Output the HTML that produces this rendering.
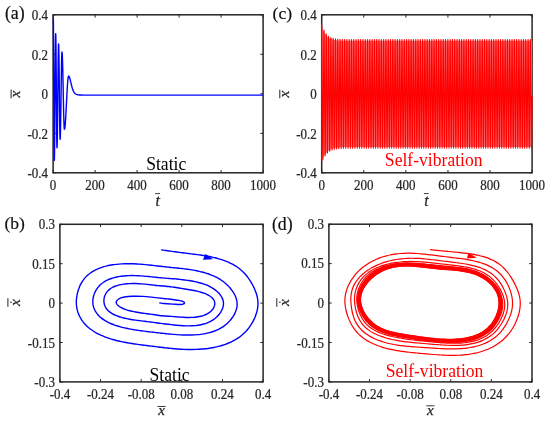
<!DOCTYPE html>
<html><head><meta charset="utf-8"><title>Static and self-vibration</title>
<style>
html,body{margin:0;padding:0;background:#fff;}
svg{display:block;font-family:"Liberation Serif","DejaVu Serif",serif;fill:#262626;}
</style></head><body>
<svg width="550" height="423" viewBox="0 0 550 423">
<rect width="550" height="423" fill="#fff"/>
<rect x="53.1" y="14.8" width="210.00000000000003" height="158.0" fill="none" stroke="#262626" stroke-width="1.5"/>
<path d="M53.10 172.8v-2.8M53.10 14.8v2.8M95.10 172.8v-2.8M95.10 14.8v2.8M137.10 172.8v-2.8M137.10 14.8v2.8M179.10 172.8v-2.8M179.10 14.8v2.8M221.10 172.8v-2.8M221.10 14.8v2.8M263.10 172.8v-2.8M263.10 14.8v2.8M53.1 14.80h2.8M263.1 14.80h-2.8M53.1 54.30h2.8M263.1 54.30h-2.8M53.1 93.80h2.8M263.1 93.80h-2.8M53.1 133.30h2.8M263.1 133.30h-2.8M53.1 172.80h2.8M263.1 172.80h-2.8" stroke="#262626" stroke-width="1" fill="none"/>
<text transform="translate(53.10,189.5) scale(1,1.05)" text-anchor="middle" font-size="13" stroke="#262626" stroke-width="0.22">0</text>
<text transform="translate(95.10,189.5) scale(1,1.05)" text-anchor="middle" font-size="13" stroke="#262626" stroke-width="0.22">200</text>
<text transform="translate(137.10,189.5) scale(1,1.05)" text-anchor="middle" font-size="13" stroke="#262626" stroke-width="0.22">400</text>
<text transform="translate(179.10,189.5) scale(1,1.05)" text-anchor="middle" font-size="13" stroke="#262626" stroke-width="0.22">600</text>
<text transform="translate(221.10,189.5) scale(1,1.05)" text-anchor="middle" font-size="13" stroke="#262626" stroke-width="0.22">800</text>
<text transform="translate(263.10,189.5) scale(1,1.05)" text-anchor="middle" font-size="13" stroke="#262626" stroke-width="0.22">1000</text>
<text transform="translate(48.1,20.26) scale(1,1.05)" text-anchor="end" font-size="13" stroke="#262626" stroke-width="0.22">0.4</text>
<text transform="translate(48.1,59.76) scale(1,1.05)" text-anchor="end" font-size="13" stroke="#262626" stroke-width="0.22">0.2</text>
<text transform="translate(48.1,99.26) scale(1,1.05)" text-anchor="end" font-size="13" stroke="#262626" stroke-width="0.22">0</text>
<text transform="translate(48.1,138.76) scale(1,1.05)" text-anchor="end" font-size="13" stroke="#262626" stroke-width="0.22">-0.2</text>
<text transform="translate(48.1,178.26) scale(1,1.05)" text-anchor="end" font-size="13" stroke="#262626" stroke-width="0.22">-0.4</text>
<rect x="321.7" y="14.8" width="210.40000000000003" height="158.0" fill="none" stroke="#262626" stroke-width="1.5"/>
<path d="M321.70 172.8v-2.8M321.70 14.8v2.8M363.78 172.8v-2.8M363.78 14.8v2.8M405.86 172.8v-2.8M405.86 14.8v2.8M447.94 172.8v-2.8M447.94 14.8v2.8M490.02 172.8v-2.8M490.02 14.8v2.8M532.10 172.8v-2.8M532.10 14.8v2.8M321.7 14.80h2.8M532.1 14.80h-2.8M321.7 54.30h2.8M532.1 54.30h-2.8M321.7 93.80h2.8M532.1 93.80h-2.8M321.7 133.30h2.8M532.1 133.30h-2.8M321.7 172.80h2.8M532.1 172.80h-2.8" stroke="#262626" stroke-width="1" fill="none"/>
<text transform="translate(321.70,189.5) scale(1,1.05)" text-anchor="middle" font-size="13" stroke="#262626" stroke-width="0.22">0</text>
<text transform="translate(363.78,189.5) scale(1,1.05)" text-anchor="middle" font-size="13" stroke="#262626" stroke-width="0.22">200</text>
<text transform="translate(405.86,189.5) scale(1,1.05)" text-anchor="middle" font-size="13" stroke="#262626" stroke-width="0.22">400</text>
<text transform="translate(447.94,189.5) scale(1,1.05)" text-anchor="middle" font-size="13" stroke="#262626" stroke-width="0.22">600</text>
<text transform="translate(490.02,189.5) scale(1,1.05)" text-anchor="middle" font-size="13" stroke="#262626" stroke-width="0.22">800</text>
<text transform="translate(532.10,189.5) scale(1,1.05)" text-anchor="middle" font-size="13" stroke="#262626" stroke-width="0.22">1000</text>
<text transform="translate(316.7,20.26) scale(1,1.05)" text-anchor="end" font-size="13" stroke="#262626" stroke-width="0.22">0.4</text>
<text transform="translate(316.7,59.76) scale(1,1.05)" text-anchor="end" font-size="13" stroke="#262626" stroke-width="0.22">0.2</text>
<text transform="translate(316.7,99.26) scale(1,1.05)" text-anchor="end" font-size="13" stroke="#262626" stroke-width="0.22">0</text>
<text transform="translate(316.7,138.76) scale(1,1.05)" text-anchor="end" font-size="13" stroke="#262626" stroke-width="0.22">-0.2</text>
<text transform="translate(316.7,178.26) scale(1,1.05)" text-anchor="end" font-size="13" stroke="#262626" stroke-width="0.22">-0.4</text>
<rect x="59.9" y="224.3" width="203.20000000000002" height="157.59999999999997" fill="none" stroke="#262626" stroke-width="1.5"/>
<path d="M59.90 381.9v-2.8M59.90 224.3v2.8M100.54 381.9v-2.8M100.54 224.3v2.8M141.18 381.9v-2.8M141.18 224.3v2.8M181.82 381.9v-2.8M181.82 224.3v2.8M222.46 381.9v-2.8M222.46 224.3v2.8M263.10 381.9v-2.8M263.10 224.3v2.8M59.9 224.30h2.8M263.1 224.30h-2.8M59.9 263.70h2.8M263.1 263.70h-2.8M59.9 303.10h2.8M263.1 303.10h-2.8M59.9 342.50h2.8M263.1 342.50h-2.8M59.9 381.90h2.8M263.1 381.90h-2.8" stroke="#262626" stroke-width="1" fill="none"/>
<text transform="translate(59.90,399.29999999999995) scale(1,1.05)" text-anchor="middle" font-size="13" stroke="#262626" stroke-width="0.22">-0.4</text>
<text transform="translate(100.54,399.29999999999995) scale(1,1.05)" text-anchor="middle" font-size="13" stroke="#262626" stroke-width="0.22">-0.24</text>
<text transform="translate(141.18,399.29999999999995) scale(1,1.05)" text-anchor="middle" font-size="13" stroke="#262626" stroke-width="0.22">-0.08</text>
<text transform="translate(181.82,399.29999999999995) scale(1,1.05)" text-anchor="middle" font-size="13" stroke="#262626" stroke-width="0.22">0.08</text>
<text transform="translate(222.46,399.29999999999995) scale(1,1.05)" text-anchor="middle" font-size="13" stroke="#262626" stroke-width="0.22">0.24</text>
<text transform="translate(263.10,399.29999999999995) scale(1,1.05)" text-anchor="middle" font-size="13" stroke="#262626" stroke-width="0.22">0.4</text>
<text transform="translate(54.9,228.96) scale(1,1.05)" text-anchor="end" font-size="13" stroke="#262626" stroke-width="0.22">0.3</text>
<text transform="translate(54.9,268.56) scale(1,1.05)" text-anchor="end" font-size="13" stroke="#262626" stroke-width="0.22">0.15</text>
<text transform="translate(54.9,308.16) scale(1,1.05)" text-anchor="end" font-size="13" stroke="#262626" stroke-width="0.22">0</text>
<text transform="translate(54.9,347.76) scale(1,1.05)" text-anchor="end" font-size="13" stroke="#262626" stroke-width="0.22">-0.15</text>
<text transform="translate(54.9,387.36) scale(1,1.05)" text-anchor="end" font-size="13" stroke="#262626" stroke-width="0.22">-0.3</text>
<rect x="328.9" y="224.2" width="203.10000000000002" height="157.7" fill="none" stroke="#262626" stroke-width="1.5"/>
<path d="M328.90 381.9v-2.8M328.90 224.2v2.8M369.52 381.9v-2.8M369.52 224.2v2.8M410.14 381.9v-2.8M410.14 224.2v2.8M450.76 381.9v-2.8M450.76 224.2v2.8M491.38 381.9v-2.8M491.38 224.2v2.8M532.00 381.9v-2.8M532.00 224.2v2.8M328.9 224.20h2.8M532.0 224.20h-2.8M328.9 263.62h2.8M532.0 263.62h-2.8M328.9 303.05h2.8M532.0 303.05h-2.8M328.9 342.47h2.8M532.0 342.47h-2.8M328.9 381.90h2.8M532.0 381.90h-2.8" stroke="#262626" stroke-width="1" fill="none"/>
<text transform="translate(328.90,399.29999999999995) scale(1,1.05)" text-anchor="middle" font-size="13" stroke="#262626" stroke-width="0.22">-0.4</text>
<text transform="translate(369.52,399.29999999999995) scale(1,1.05)" text-anchor="middle" font-size="13" stroke="#262626" stroke-width="0.22">-0.24</text>
<text transform="translate(410.14,399.29999999999995) scale(1,1.05)" text-anchor="middle" font-size="13" stroke="#262626" stroke-width="0.22">-0.08</text>
<text transform="translate(450.76,399.29999999999995) scale(1,1.05)" text-anchor="middle" font-size="13" stroke="#262626" stroke-width="0.22">0.08</text>
<text transform="translate(491.38,399.29999999999995) scale(1,1.05)" text-anchor="middle" font-size="13" stroke="#262626" stroke-width="0.22">0.24</text>
<text transform="translate(532.00,399.29999999999995) scale(1,1.05)" text-anchor="middle" font-size="13" stroke="#262626" stroke-width="0.22">0.4</text>
<text transform="translate(323.9,228.86) scale(1,1.05)" text-anchor="end" font-size="13" stroke="#262626" stroke-width="0.22">0.3</text>
<text transform="translate(323.9,268.49) scale(1,1.05)" text-anchor="end" font-size="13" stroke="#262626" stroke-width="0.22">0.15</text>
<text transform="translate(323.9,308.11) scale(1,1.05)" text-anchor="end" font-size="13" stroke="#262626" stroke-width="0.22">0</text>
<text transform="translate(323.9,347.74) scale(1,1.05)" text-anchor="end" font-size="13" stroke="#262626" stroke-width="0.22">-0.15</text>
<text transform="translate(323.9,387.36) scale(1,1.05)" text-anchor="end" font-size="13" stroke="#262626" stroke-width="0.22">-0.3</text>
<path d="M53.30 18.40L53.37 20.18L53.44 25.44L53.51 33.90L53.59 45.15L53.66 58.62L53.73 73.64L53.80 89.45L53.87 105.26L53.94 120.28L54.01 133.75L54.09 145.00L54.16 153.46L54.23 158.72L54.30 160.50L54.40 158.91L54.50 154.23L54.60 146.68L54.70 136.65L54.80 124.64L54.90 111.25L55.00 97.15L55.10 83.05L55.20 69.66L55.30 57.65L55.40 47.62L55.50 40.07L55.60 35.39L55.70 33.80L55.79 35.23L55.89 39.44L55.98 46.24L56.07 55.26L56.16 66.07L56.26 78.12L56.35 90.80L56.44 103.48L56.54 115.53L56.63 126.34L56.72 135.36L56.81 142.16L56.91 146.37L57.00 147.80L57.11 146.50L57.23 142.66L57.34 136.48L57.46 128.26L57.57 118.42L57.69 107.45L57.80 95.90L57.91 84.35L58.03 73.38L58.14 63.54L58.26 55.32L58.37 49.14L58.49 45.30L58.60 44.00L58.71 45.19L58.81 48.72L58.92 54.40L59.03 61.94L59.14 70.98L59.24 81.05L59.35 91.65L59.46 102.25L59.56 112.32L59.67 121.36L59.78 128.90L59.89 134.58L59.99 138.11L60.10 139.30L60.24 138.21L60.37 134.98L60.51 129.78L60.64 122.87L60.78 114.59L60.91 105.36L61.05 95.65L61.19 85.94L61.32 76.71L61.46 68.43L61.59 61.52L61.73 56.32L61.86 53.09L62.00 52.00L62.17 52.97L62.34 55.83L62.51 60.43L62.69 66.55L62.86 73.88L63.03 82.05L63.20 90.65L63.37 99.25L63.54 107.42L63.71 114.75L63.89 120.87L64.06 125.47L64.23 128.33L64.40 129.30L64.70 128.63L65.00 126.66L65.30 123.49L65.60 119.27L65.90 114.21L66.20 108.58L66.50 102.65L66.80 96.72L67.10 91.09L67.40 86.03L67.70 81.81L68.00 78.64L68.30 76.67L68.60 76.00L69.00 76.26L69.40 77.02L69.80 78.19L70.20 79.68L70.60 81.34L71.00 83.06L71.40 84.75L71.80 86.34L72.20 87.78L72.60 89.04L73.00 90.13L73.40 91.06L73.80 91.83L74.20 92.46L74.60 92.99L75.00 93.41L75.40 93.75L75.80 94.03L76.20 94.25L76.60 94.42L77.00 94.56L77.40 94.67L77.80 94.76L78.20 94.83L78.60 94.89L79.00 94.93L79.40 94.97L79.80 95.00L80.20 95.02L80.60 95.03L81.00 95.05L81.40 95.06L81.80 95.07L82.20 95.07L82.60 95.08L83.00 95.08L83.40 95.09L83.80 95.09L84.20 95.09L84.60 95.09L85.00 95.10L85.40 95.10L85.80 95.10L86.20 95.10L86.60 95.10L87.00 95.10L87.40 95.10L87.80 95.10L88.20 95.10L88.60 95.10L89.00 95.10L89.40 95.10L89.80 95.10L263.00 95.10" fill="none" stroke="#0000ff" stroke-width="1.4" stroke-linejoin="round"/>
<path d="M321.70 25.30L322.51 27.86L323.32 30.00L324.13 31.78L324.94 33.27L325.75 34.52L326.56 35.55L327.36 36.42L328.17 37.14L328.98 37.75L329.79 38.25L330.60 38.67L331.41 39.02L332.22 39.32L333.03 39.56L333.84 39.77L334.65 39.94L335.46 40.08L336.27 40.20L337.08 40.30L337.88 40.38L338.69 40.45L339.50 40.51L340.31 40.56L341.12 40.60L341.93 40.63L342.74 40.66L343.55 40.68L344.36 40.70L345.17 40.72L345.98 40.73L346.79 40.74L347.60 40.75L348.40 40.76L349.21 40.77L350.02 40.77L350.83 40.78L351.64 40.78L352.45 40.78L353.26 40.79L532.10 40.80L532.10 146.90L353.26 146.93L352.45 146.94L351.64 146.94L350.83 146.95L350.02 146.96L349.21 146.97L348.40 146.98L347.60 147.00L346.79 147.01L345.98 147.03L345.17 147.05L344.36 147.08L343.55 147.11L342.74 147.14L341.93 147.19L341.12 147.24L340.31 147.29L339.50 147.36L338.69 147.44L337.88 147.53L337.08 147.64L336.27 147.76L335.46 147.91L334.65 148.08L333.84 148.29L333.03 148.52L332.22 148.80L331.41 149.12L330.60 149.50L329.79 149.95L328.98 150.47L328.17 151.08L327.36 151.79L326.56 152.63L325.75 153.61L324.94 154.75L324.13 156.09L323.32 157.66L322.51 159.50L321.70 161.65Z" fill="#ff6a6a" stroke="none"/>
<path d="M321.70 24.10L321.84 35.74L321.99 56.85L322.13 75.09L322.27 94.00L322.42 112.48L322.56 129.88L322.70 149.59L322.85 159.90L322.99 149.03L323.13 129.17L323.28 111.93L323.42 94.00L323.56 76.16L323.71 59.35L323.85 40.29L323.99 30.31L324.14 40.79L324.28 59.99L324.42 76.65L324.57 94.00L324.71 111.20L324.85 127.45L325.00 145.92L325.14 155.65L325.28 145.56L325.43 127.00L325.57 110.85L325.71 94.00L325.86 77.29L326.00 61.48L326.14 43.52L326.29 34.03L326.43 43.82L326.57 61.87L326.72 77.58L326.86 94.00L327.00 110.39L327.15 125.91L327.29 143.57L327.43 152.93L327.58 143.35L327.72 125.61L327.86 110.16L328.01 94.00L328.15 77.96L328.29 62.77L328.44 45.45L328.58 36.26L328.72 45.63L328.87 63.00L329.01 78.14L329.15 94.00L329.30 109.87L329.44 124.91L329.58 142.07L329.73 151.19L329.87 141.93L330.01 124.73L330.16 109.72L330.30 94.00L330.44 78.37L330.59 63.53L330.73 46.61L330.87 37.60L331.02 46.72L331.16 63.67L331.30 78.48L331.45 94.00L331.59 109.53L331.73 124.28L331.88 141.11L332.02 150.08L332.16 141.02L332.31 124.16L332.45 109.44L332.59 94.00L332.74 78.61L332.88 63.99L333.02 47.30L333.17 38.40L333.31 47.37L333.45 64.08L333.60 78.68L333.74 94.00L333.88 109.32L334.03 123.87L334.17 140.50L334.31 149.36L334.46 140.44L334.60 123.80L334.74 109.26L334.89 94.00L335.03 78.76L335.17 64.27L335.32 47.72L335.46 38.88L335.60 47.76L335.75 64.32L335.89 78.80L336.03 94.00L336.18 109.18L336.32 123.62L336.46 140.10L336.61 148.91L336.75 140.06L336.89 123.57L337.04 109.14L337.18 94.00L337.32 78.85L337.47 64.44L337.61 47.97L337.75 39.17L337.90 47.99L338.04 64.47L338.18 78.87L338.33 94.00L338.47 109.09L338.61 123.45L338.76 139.85L338.90 148.62L339.04 139.83L339.19 123.42L339.33 109.07L339.47 94.00L339.62 78.90L339.76 64.54L339.90 48.12L340.05 39.34L340.19 48.13L340.33 64.55L340.48 78.91L340.62 94.00L340.76 109.04L340.91 123.34L341.05 139.69L341.19 148.43L341.34 139.68L341.48 123.32L341.62 109.02L341.77 94.00L341.91 78.93L342.05 64.60L342.20 48.21L342.34 39.45L342.48 48.22L342.63 64.61L342.77 78.94L342.91 94.00L343.06 109.00L343.20 123.27L343.34 139.59L343.49 148.31L343.63 139.58L343.77 123.26L343.92 108.99L344.06 94.00L344.20 78.95L344.35 64.63L344.49 48.26L344.63 39.51L344.78 48.27L344.92 64.64L345.06 78.96L345.21 94.00L345.35 108.98L345.49 123.23L345.64 139.52L345.78 148.24L345.92 139.52L346.07 123.22L346.21 108.97L346.35 94.00L346.50 78.96L346.64 64.65L346.78 48.30L346.93 39.54L347.07 48.30L347.21 64.66L347.36 78.97L347.50 94.00L347.64 108.96L347.79 123.20L347.93 139.48L348.07 148.19L348.22 139.48L348.36 123.20L348.50 108.96L348.65 94.00L348.79 78.97L348.93 64.66L349.08 48.31L349.22 39.57L349.36 48.32L349.51 64.67L349.65 78.97L349.79 94.00L349.94 108.95L350.08 123.19L350.22 139.45L350.37 148.16L350.51 139.45L350.65 123.18L350.80 108.95L350.94 94.00L351.08 78.97L351.23 64.67L351.37 48.33L351.51 39.58L351.66 48.33L351.80 64.67L351.94 78.97L352.09 94.00L352.23 108.95L352.37 123.17L352.52 139.44L352.66 148.14L352.80 139.43L352.95 123.17L353.09 108.95L353.23 94.00L353.38 78.98L353.52 64.68L353.66 48.33L353.81 39.59L353.95 48.33L354.09 64.68L354.24 78.98L354.38 94.00L354.52 108.94L354.67 123.17L354.81 139.42L354.95 148.12L355.10 139.42L355.24 123.17L355.38 108.94L355.53 94.00L355.67 78.98L355.81 64.68L355.96 48.34L356.10 39.59L356.24 48.34L356.39 64.68L356.53 78.98L356.67 94.00L356.82 108.94L356.96 123.16L357.10 139.42L357.25 148.11L357.39 139.42L357.53 123.16L357.68 108.94L357.82 94.00L357.96 78.98L358.11 64.68L358.25 48.34L358.39 39.60L358.54 48.34L358.68 64.68L358.82 78.98L358.97 94.00L359.11 108.94L359.25 123.16L359.40 139.41L359.54 148.11L359.68 139.41L359.83 123.16L359.97 108.94L360.11 94.00L360.26 78.98L360.40 64.68L360.54 48.34L360.69 39.60L360.83 48.34L360.97 64.68L361.12 78.98L361.26 94.00L361.40 108.94L361.55 123.16L361.69 139.41L361.83 148.11L361.98 139.41L362.12 123.16L362.26 108.94L362.41 94.00L362.55 78.98L362.69 64.68L362.84 48.34L362.98 39.60L363.12 48.34L363.27 64.68L363.41 78.98L363.55 94.00L363.70 108.94L363.84 123.16L363.98 139.41L364.13 148.10L364.27 139.41L364.41 123.16L364.56 108.94L364.70 94.00L364.84 78.98L364.99 64.68L365.13 48.34L365.27 39.60L365.42 48.34L365.56 64.68L365.70 78.98L365.85 94.00L365.99 108.94L366.13 123.16L366.28 139.41L366.42 148.10L366.56 139.41L366.71 123.16L366.85 108.94L366.99 94.00L367.14 78.98L367.28 64.68L367.42 48.34L367.57 39.60L367.71 48.34L367.85 64.68L368.00 78.98L368.14 94.00L368.28 108.94L368.43 123.16L368.57 139.41L368.71 148.10L368.86 139.41L369.00 123.16L369.14 108.94L369.29 94.00L369.43 78.98L369.57 64.68L369.72 48.34L369.86 39.60L370.00 48.34L370.15 64.68L370.29 78.98L370.43 94.00L370.58 108.94L370.72 123.15L370.86 139.41L371.01 148.10L371.15 139.41L371.29 123.15L371.44 108.94L371.58 94.00L371.72 78.98L371.87 64.68L372.01 48.34L372.15 39.60L372.30 48.34L372.44 64.68L372.58 78.98L372.73 94.00L372.87 108.94L373.01 123.15L373.16 139.41L373.30 148.10L373.44 139.41L373.59 123.15L373.73 108.94L373.87 94.00L374.02 78.98L374.16 64.68L374.30 48.34L374.45 39.60L374.59 48.34L374.73 64.68L374.88 78.98L375.02 94.00L375.16 108.94L375.31 123.15L375.45 139.41L375.59 148.10L375.74 139.41L375.88 123.15L376.02 108.94L376.17 94.00L376.31 78.98L376.45 64.68L376.60 48.34L376.74 39.60L376.88 48.34L377.03 64.68L377.17 78.98L377.31 94.00L377.46 108.94L377.60 123.15L377.74 139.41L377.89 148.10L378.03 139.41L378.17 123.15L378.32 108.94L378.46 94.00L378.60 78.98L378.75 64.68L378.89 48.34L379.03 39.60L379.18 48.34L379.32 64.68L379.46 78.98L379.61 94.00L379.75 108.94L379.89 123.15L380.04 139.41L380.18 148.10L380.32 139.41L380.47 123.15L380.61 108.94L380.75 94.00L380.90 78.98L381.04 64.68L381.18 48.34L381.33 39.60L381.47 48.34L381.61 64.68L381.76 78.98L381.90 94.00L382.04 108.94L382.19 123.15L382.33 139.41L382.47 148.10L382.62 139.41L382.76 123.15L382.90 108.94L383.05 94.00L383.19 78.98L383.33 64.68L383.48 48.34L383.62 39.60L383.76 48.34L383.91 64.68L384.05 78.98L384.19 94.00L384.34 108.94L384.48 123.15L384.62 139.41L384.77 148.10L384.91 139.41L385.05 123.15L385.20 108.94L385.34 94.00L385.48 78.98L385.63 64.68L385.77 48.34L385.91 39.60L386.06 48.34L386.20 64.68L386.34 78.98L386.49 94.00L386.63 108.94L386.77 123.15L386.92 139.40L387.06 148.10L387.20 139.40L387.35 123.15L387.49 108.94L387.63 94.00L387.78 78.98L387.92 64.68L388.06 48.34L388.21 39.60L388.35 48.34L388.49 64.68L388.64 78.98L388.78 94.00L388.92 108.94L389.07 123.15L389.21 139.40L389.35 148.10L389.50 139.40L389.64 123.15L389.78 108.94L389.93 94.00L390.07 78.98L390.21 64.68L390.36 48.34L390.50 39.60L390.64 48.34L390.79 64.68L390.93 78.98L391.07 94.00L391.22 108.94L391.36 123.15L391.50 139.40L391.65 148.10L391.79 139.40L391.93 123.15L392.08 108.94L392.22 94.00L392.36 78.98L392.51 64.68L392.65 48.34L392.79 39.60L392.94 48.34L393.08 64.68L393.22 78.98L393.37 94.00L393.51 108.94L393.65 123.15L393.80 139.40L393.94 148.10L394.08 139.40L394.23 123.15L394.37 108.94L394.51 94.00L394.66 78.98L394.80 64.68L394.94 48.34L395.09 39.60L395.23 48.34L395.37 64.68L395.52 78.98L395.66 94.00L395.80 108.94L395.95 123.15L396.09 139.40L396.23 148.10L396.38 139.40L396.52 123.15L396.66 108.94L396.81 94.00L396.95 78.98L397.09 64.68L397.24 48.34L397.38 39.60L397.52 48.34L397.67 64.68L397.81 78.98L397.95 94.00L398.10 108.94L398.24 123.15L398.38 139.40L398.53 148.10L398.67 139.40L398.81 123.15L398.96 108.94L399.10 94.00L399.24 78.98L399.39 64.68L399.53 48.34L399.67 39.60L399.82 48.34L399.96 64.68L400.10 78.98L400.25 94.00L400.39 108.94L400.53 123.15L400.68 139.40L400.82 148.10L400.96 139.40L401.11 123.15L401.25 108.94L401.39 94.00L401.54 78.98L401.68 64.68L401.82 48.34L401.97 39.60L402.11 48.34L402.25 64.68L402.40 78.98L402.54 94.00L402.68 108.94L402.83 123.15L402.97 139.40L403.11 148.10L403.26 139.40L403.40 123.15L403.54 108.94L403.69 94.00L403.83 78.98L403.97 64.68L404.12 48.34L404.26 39.60L404.40 48.34L404.55 64.68L404.69 78.98L404.83 94.00L404.98 108.94L405.12 123.15L405.26 139.40L405.41 148.10L405.55 139.40L405.69 123.15L405.84 108.94L405.98 94.00L406.12 78.98L406.27 64.68L406.41 48.34L406.55 39.60L406.70 48.34L406.84 64.68L406.98 78.98L407.13 94.00L407.27 108.94L407.41 123.15L407.56 139.40L407.70 148.10L407.84 139.40L407.99 123.15L408.13 108.94L408.27 94.00L408.42 78.98L408.56 64.68L408.70 48.34L408.85 39.60L408.99 48.34L409.13 64.68L409.28 78.98L409.42 94.00L409.56 108.94L409.71 123.15L409.85 139.40L409.99 148.10L410.14 139.40L410.28 123.15L410.42 108.94L410.57 94.00L410.71 78.98L410.85 64.68L411.00 48.34L411.14 39.60L411.28 48.34L411.43 64.68L411.57 78.98L411.71 94.00L411.86 108.94L412.00 123.15L412.14 139.40L412.29 148.10L412.43 139.40L412.57 123.15L412.72 108.94L412.86 94.00L413.00 78.98L413.15 64.68L413.29 48.34L413.43 39.60L413.58 48.34L413.72 64.68L413.86 78.98L414.01 94.00L414.15 108.94L414.29 123.15L414.44 139.40L414.58 148.10L414.72 139.40L414.87 123.15L415.01 108.94L415.15 94.00L415.30 78.98L415.44 64.68L415.58 48.34L415.73 39.60L415.87 48.34L416.01 64.68L416.16 78.98L416.30 94.00L416.44 108.94L416.59 123.15L416.73 139.40L416.87 148.10L417.02 139.40L417.16 123.15L417.30 108.94L417.45 94.00L417.59 78.98L417.73 64.68L417.88 48.34L418.02 39.60L418.16 48.34L418.31 64.68L418.45 78.98L418.59 94.00L418.74 108.94L418.88 123.15L419.02 139.40L419.17 148.10L419.31 139.40L419.45 123.15L419.60 108.94L419.74 94.00L419.88 78.98L420.03 64.68L420.17 48.34L420.31 39.60L420.46 48.34L420.60 64.68L420.74 78.98L420.89 94.00L421.03 108.94L421.17 123.15L421.32 139.40L421.46 148.10L421.60 139.40L421.75 123.15L421.89 108.94L422.03 94.00L422.18 78.98L422.32 64.68L422.46 48.34L422.61 39.60L422.75 48.34L422.89 64.68L423.04 78.98L423.18 94.00L423.32 108.94L423.47 123.15L423.61 139.40L423.75 148.10L423.90 139.40L424.04 123.15L424.18 108.94L424.33 94.00L424.47 78.98L424.61 64.68L424.76 48.34L424.90 39.60L425.04 48.34L425.19 64.68L425.33 78.98L425.47 94.00L425.62 108.94L425.76 123.15L425.90 139.40L426.05 148.10L426.19 139.40L426.33 123.15L426.48 108.94L426.62 94.00L426.76 78.98L426.91 64.68L427.05 48.34L427.19 39.60L427.34 48.34L427.48 64.68L427.62 78.98L427.77 94.00L427.91 108.94L428.05 123.15L428.20 139.40L428.34 148.10L428.48 139.40L428.63 123.15L428.77 108.94L428.91 94.00L429.06 78.98L429.20 64.68L429.34 48.34L429.49 39.60L429.63 48.34L429.77 64.68L429.92 78.98L430.06 94.00L430.20 108.94L430.35 123.15L430.49 139.40L430.63 148.10L430.78 139.40L430.92 123.15L431.06 108.94L431.21 94.00L431.35 78.98L431.49 64.68L431.64 48.34L431.78 39.60L431.92 48.34L432.07 64.68L432.21 78.98L432.35 94.00L432.50 108.94L432.64 123.15L432.78 139.40L432.93 148.10L433.07 139.40L433.21 123.15L433.36 108.94L433.50 94.00L433.64 78.98L433.79 64.68L433.93 48.34L434.07 39.60L434.22 48.34L434.36 64.68L434.50 78.98L434.65 94.00L434.79 108.94L434.93 123.15L435.08 139.40L435.22 148.10L435.36 139.40L435.51 123.15L435.65 108.94L435.79 94.00L435.94 78.98L436.08 64.68L436.22 48.34L436.37 39.60L436.51 48.34L436.65 64.68L436.80 78.98L436.94 94.00L437.08 108.94L437.23 123.15L437.37 139.40L437.51 148.10L437.66 139.40L437.80 123.15L437.94 108.94L438.09 94.00L438.23 78.98L438.37 64.68L438.52 48.34L438.66 39.60L438.80 48.34L438.95 64.68L439.09 78.98L439.23 94.00L439.38 108.94L439.52 123.15L439.66 139.40L439.81 148.10L439.95 139.40L440.09 123.15L440.24 108.94L440.38 94.00L440.52 78.98L440.67 64.68L440.81 48.34L440.95 39.60L441.10 48.34L441.24 64.68L441.38 78.98L441.53 94.00L441.67 108.94L441.81 123.15L441.96 139.40L442.10 148.10L442.24 139.40L442.39 123.15L442.53 108.94L442.67 94.00L442.82 78.98L442.96 64.68L443.10 48.34L443.25 39.60L443.39 48.34L443.53 64.68L443.68 78.98L443.82 94.00L443.96 108.94L444.11 123.15L444.25 139.40L444.39 148.10L444.54 139.40L444.68 123.15L444.82 108.94L444.97 94.00L445.11 78.98L445.25 64.68L445.40 48.34L445.54 39.60L445.68 48.34L445.83 64.68L445.97 78.98L446.11 94.00L446.26 108.94L446.40 123.15L446.54 139.40L446.69 148.10L446.83 139.40L446.97 123.15L447.12 108.94L447.26 94.00L447.40 78.98L447.55 64.68L447.69 48.34L447.83 39.60L447.98 48.34L448.12 64.68L448.26 78.98L448.41 94.00L448.55 108.94L448.69 123.15L448.84 139.40L448.98 148.10L449.12 139.40L449.27 123.15L449.41 108.94L449.55 94.00L449.70 78.98L449.84 64.68L449.98 48.34L450.13 39.60L450.27 48.34L450.41 64.68L450.56 78.98L450.70 94.00L450.84 108.94L450.99 123.15L451.13 139.40L451.27 148.10L451.42 139.40L451.56 123.15L451.70 108.94L451.85 94.00L451.99 78.98L452.13 64.68L452.28 48.34L452.42 39.60L452.56 48.34L452.71 64.68L452.85 78.98L452.99 94.00L453.14 108.94L453.28 123.15L453.42 139.40L453.57 148.10L453.71 139.40L453.85 123.15L454.00 108.94L454.14 94.00L454.28 78.98L454.43 64.68L454.57 48.34L454.71 39.60L454.86 48.34L455.00 64.68L455.14 78.98L455.29 94.00L455.43 108.94L455.57 123.15L455.72 139.40L455.86 148.10L456.00 139.40L456.15 123.15L456.29 108.94L456.43 94.00L456.58 78.98L456.72 64.68L456.86 48.34L457.01 39.60L457.15 48.34L457.29 64.68L457.44 78.98L457.58 94.00L457.72 108.94L457.87 123.15L458.01 139.40L458.15 148.10L458.30 139.40L458.44 123.15L458.58 108.94L458.73 94.00L458.87 78.98L459.01 64.68L459.16 48.34L459.30 39.60L459.44 48.34L459.59 64.68L459.73 78.98L459.87 94.00L460.02 108.94L460.16 123.15L460.30 139.40L460.45 148.10L460.59 139.40L460.73 123.15L460.88 108.94L461.02 94.00L461.16 78.98L461.31 64.68L461.45 48.34L461.59 39.60L461.74 48.34L461.88 64.68L462.02 78.98L462.17 94.00L462.31 108.94L462.45 123.15L462.60 139.40L462.74 148.10L462.88 139.40L463.03 123.15L463.17 108.94L463.31 94.00L463.46 78.98L463.60 64.68L463.74 48.34L463.89 39.60L464.03 48.34L464.17 64.68L464.32 78.98L464.46 94.00L464.60 108.94L464.75 123.15L464.89 139.40L465.04 148.10L465.18 139.40L465.32 123.15L465.47 108.94L465.61 94.00L465.75 78.98L465.90 64.68L466.04 48.34L466.18 39.60L466.33 48.34L466.47 64.68L466.61 78.98L466.76 94.00L466.90 108.94L467.04 123.15L467.19 139.40L467.33 148.10L467.47 139.40L467.62 123.15L467.76 108.94L467.90 94.00L468.05 78.98L468.19 64.68L468.33 48.34L468.48 39.60L468.62 48.34L468.76 64.68L468.91 78.98L469.05 94.00L469.19 108.94L469.34 123.15L469.48 139.40L469.62 148.10L469.77 139.40L469.91 123.15L470.05 108.94L470.20 94.00L470.34 78.98L470.48 64.68L470.63 48.34L470.77 39.60L470.91 48.34L471.06 64.68L471.20 78.98L471.34 94.00L471.49 108.94L471.63 123.15L471.77 139.40L471.92 148.10L472.06 139.40L472.20 123.15L472.35 108.94L472.49 94.00L472.63 78.98L472.78 64.68L472.92 48.34L473.06 39.60L473.21 48.34L473.35 64.68L473.49 78.98L473.64 94.00L473.78 108.94L473.92 123.15L474.07 139.40L474.21 148.10L474.35 139.40L474.50 123.15L474.64 108.94L474.78 94.00L474.93 78.98L475.07 64.68L475.21 48.34L475.36 39.60L475.50 48.34L475.64 64.68L475.79 78.98L475.93 94.00L476.07 108.94L476.22 123.15L476.36 139.40L476.50 148.10L476.65 139.40L476.79 123.15L476.93 108.94L477.08 94.00L477.22 78.98L477.36 64.68L477.51 48.34L477.65 39.60L477.79 48.34L477.94 64.68L478.08 78.98L478.22 94.00L478.37 108.94L478.51 123.15L478.65 139.40L478.80 148.10L478.94 139.40L479.08 123.15L479.23 108.94L479.37 94.00L479.51 78.98L479.66 64.68L479.80 48.34L479.94 39.60L480.09 48.34L480.23 64.68L480.37 78.98L480.52 94.00L480.66 108.94L480.80 123.15L480.95 139.40L481.09 148.10L481.23 139.40L481.38 123.15L481.52 108.94L481.66 94.00L481.81 78.98L481.95 64.68L482.09 48.34L482.24 39.60L482.38 48.34L482.52 64.68L482.67 78.98L482.81 94.00L482.95 108.94L483.10 123.15L483.24 139.40L483.38 148.10L483.53 139.40L483.67 123.15L483.81 108.94L483.96 94.00L484.10 78.98L484.24 64.68L484.39 48.34L484.53 39.60L484.67 48.34L484.82 64.68L484.96 78.98L485.10 94.00L485.25 108.94L485.39 123.15L485.53 139.40L485.68 148.10L485.82 139.40L485.96 123.15L486.11 108.94L486.25 94.00L486.39 78.98L486.54 64.68L486.68 48.34L486.82 39.60L486.97 48.34L487.11 64.68L487.25 78.98L487.40 94.00L487.54 108.94L487.68 123.15L487.83 139.40L487.97 148.10L488.11 139.40L488.26 123.15L488.40 108.94L488.54 94.00L488.69 78.98L488.83 64.68L488.97 48.34L489.12 39.60L489.26 48.34L489.40 64.68L489.55 78.98L489.69 94.00L489.83 108.94L489.98 123.15L490.12 139.40L490.26 148.10L490.41 139.40L490.55 123.15L490.69 108.94L490.84 94.00L490.98 78.98L491.12 64.68L491.27 48.34L491.41 39.60L491.55 48.34L491.70 64.68L491.84 78.98L491.98 94.00L492.13 108.94L492.27 123.15L492.41 139.40L492.56 148.10L492.70 139.40L492.84 123.15L492.99 108.94L493.13 94.00L493.27 78.98L493.42 64.68L493.56 48.34L493.70 39.60L493.85 48.34L493.99 64.68L494.13 78.98L494.28 94.00L494.42 108.94L494.56 123.15L494.71 139.40L494.85 148.10L494.99 139.40L495.14 123.15L495.28 108.94L495.42 94.00L495.57 78.98L495.71 64.68L495.85 48.34L496.00 39.60L496.14 48.34L496.28 64.68L496.43 78.98L496.57 94.00L496.71 108.94L496.86 123.15L497.00 139.40L497.14 148.10L497.29 139.40L497.43 123.15L497.57 108.94L497.72 94.00L497.86 78.98L498.00 64.68L498.15 48.34L498.29 39.60L498.43 48.34L498.58 64.68L498.72 78.98L498.86 94.00L499.01 108.94L499.15 123.15L499.29 139.40L499.44 148.10L499.58 139.40L499.72 123.15L499.87 108.94L500.01 94.00L500.15 78.98L500.30 64.68L500.44 48.34L500.58 39.60L500.73 48.34L500.87 64.68L501.01 78.98L501.16 94.00L501.30 108.94L501.44 123.15L501.59 139.40L501.73 148.10L501.87 139.40L502.02 123.15L502.16 108.94L502.30 94.00L502.45 78.98L502.59 64.68L502.73 48.34L502.88 39.60L503.02 48.34L503.16 64.68L503.31 78.98L503.45 94.00L503.59 108.94L503.74 123.15L503.88 139.40L504.02 148.10L504.17 139.40L504.31 123.15L504.45 108.94L504.60 94.00L504.74 78.98L504.88 64.68L505.03 48.34L505.17 39.60L505.31 48.34L505.46 64.68L505.60 78.98L505.74 94.00L505.89 108.94L506.03 123.15L506.17 139.40L506.32 148.10L506.46 139.40L506.60 123.15L506.75 108.94L506.89 94.00L507.03 78.98L507.18 64.68L507.32 48.34L507.46 39.60L507.61 48.34L507.75 64.68L507.89 78.98L508.04 94.00L508.18 108.94L508.32 123.15L508.47 139.40L508.61 148.10L508.75 139.40L508.90 123.15L509.04 108.94L509.18 94.00L509.33 78.98L509.47 64.68L509.61 48.34L509.76 39.60L509.90 48.34L510.04 64.68L510.19 78.98L510.33 94.00L510.47 108.94L510.62 123.15L510.76 139.40L510.90 148.10L511.05 139.40L511.19 123.15L511.33 108.94L511.48 94.00L511.62 78.98L511.76 64.68L511.91 48.34L512.05 39.60L512.19 48.34L512.34 64.68L512.48 78.98L512.62 94.00L512.77 108.94L512.91 123.15L513.05 139.40L513.20 148.10L513.34 139.40L513.48 123.15L513.63 108.94L513.77 94.00L513.91 78.98L514.06 64.68L514.20 48.34L514.34 39.60L514.49 48.34L514.63 64.68L514.77 78.98L514.92 94.00L515.06 108.94L515.20 123.15L515.35 139.40L515.49 148.10L515.63 139.40L515.78 123.15L515.92 108.94L516.06 94.00L516.21 78.98L516.35 64.68L516.49 48.34L516.64 39.60L516.78 48.34L516.92 64.68L517.07 78.98L517.21 94.00L517.35 108.94L517.50 123.15L517.64 139.40L517.78 148.10L517.93 139.40L518.07 123.15L518.21 108.94L518.36 94.00L518.50 78.98L518.64 64.68L518.79 48.34L518.93 39.60L519.07 48.34L519.22 64.68L519.36 78.98L519.50 94.00L519.65 108.94L519.79 123.15L519.93 139.40L520.08 148.10L520.22 139.40L520.36 123.15L520.51 108.94L520.65 94.00L520.79 78.98L520.94 64.68L521.08 48.34L521.22 39.60L521.37 48.34L521.51 64.68L521.65 78.98L521.80 94.00L521.94 108.94L522.08 123.15L522.23 139.40L522.37 148.10L522.51 139.40L522.66 123.15L522.80 108.94L522.94 94.00L523.09 78.98L523.23 64.68L523.37 48.34L523.52 39.60L523.66 48.34L523.80 64.68L523.95 78.98L524.09 94.00L524.23 108.94L524.38 123.15L524.52 139.40L524.66 148.10L524.81 139.40L524.95 123.15L525.09 108.94L525.24 94.00L525.38 78.98L525.52 64.68L525.67 48.34L525.81 39.60L525.95 48.34L526.10 64.68L526.24 78.98L526.38 94.00L526.53 108.94L526.67 123.15L526.81 139.40L526.96 148.10L527.10 139.40L527.24 123.15L527.39 108.94L527.53 94.00L527.67 78.98L527.82 64.68L527.96 48.34L528.10 39.60L528.25 48.34L528.39 64.68L528.53 78.98L528.68 94.00L528.82 108.94L528.96 123.15L529.11 139.40L529.25 148.10L529.39 139.40L529.54 123.15L529.68 108.94L529.82 94.00L529.97 78.98L530.11 64.68L530.25 48.34L530.40 39.60L530.54 48.34L530.68 64.68L530.83 78.98L530.97 94.00L531.11 108.94L531.26 123.15L531.40 139.40L531.54 148.10L531.69 139.40L531.83 123.15L531.97 108.94L532.10 95.72" fill="none" stroke="#ff0000" stroke-width="1.12" stroke-linejoin="round"/>
<path d="M161.64 249.91C162.63 250.05 163.62 250.19 164.61 250.34C165.60 250.48 166.59 250.62 167.58 250.76C168.57 250.90 169.56 251.04 170.55 251.18C171.54 251.32 172.53 251.46 173.52 251.60C174.51 251.73 175.50 251.87 176.49 252.00C177.48 252.13 178.47 252.26 179.47 252.39C180.46 252.52 181.45 252.64 182.44 252.77C183.43 252.89 184.43 253.01 185.42 253.14C186.41 253.26 187.40 253.38 188.40 253.50C189.39 253.63 190.38 253.75 191.37 253.87C192.37 254.00 193.36 254.12 194.35 254.25C195.34 254.38 196.33 254.51 197.32 254.64C198.32 254.77 199.31 254.91 200.30 255.06C201.29 255.20 202.27 255.35 203.26 255.50C204.25 255.66 205.24 255.82 206.22 255.99C207.21 256.16 208.19 256.34 209.17 256.53C210.16 256.72 211.14 256.91 212.11 257.12C213.09 257.34 214.07 257.56 215.04 257.80C216.01 258.03 216.98 258.28 217.94 258.55C218.90 258.82 219.86 259.10 220.82 259.40C221.77 259.70 222.72 260.01 223.66 260.35C224.61 260.68 225.54 261.03 226.47 261.41C227.40 261.78 228.32 262.18 229.22 262.60C230.13 263.01 231.03 263.45 231.92 263.92C232.80 264.39 233.67 264.88 234.53 265.40C235.38 265.92 236.22 266.46 237.04 267.03C237.87 267.60 238.67 268.19 239.46 268.81C240.24 269.43 241.01 270.07 241.75 270.74C242.50 271.40 243.22 272.10 243.91 272.82C244.61 273.54 245.28 274.28 245.93 275.04C246.58 275.80 247.20 276.58 247.81 277.38C248.41 278.18 248.98 279.00 249.54 279.83C250.10 280.66 250.63 281.50 251.14 282.36C251.66 283.22 252.15 284.09 252.62 284.97C253.09 285.85 253.54 286.75 253.96 287.65C254.39 288.56 254.79 289.47 255.17 290.40C255.54 291.33 255.89 292.27 256.21 293.21C256.52 294.16 256.81 295.12 257.05 296.09C257.29 297.06 257.49 298.05 257.64 299.03C257.79 300.02 257.90 301.02 257.95 302.02C258.00 303.01 258.00 304.02 257.95 305.01C257.90 306.01 257.79 307.01 257.64 308.00C257.50 308.99 257.30 309.97 257.06 310.94C256.83 311.91 256.55 312.87 256.24 313.82C255.93 314.77 255.58 315.71 255.21 316.64C254.83 317.57 254.43 318.48 254.00 319.38C253.57 320.29 253.10 321.17 252.62 322.05C252.13 322.92 251.62 323.78 251.08 324.63C250.55 325.47 249.99 326.30 249.40 327.11C248.81 327.92 248.20 328.71 247.56 329.48C246.92 330.24 246.26 331.00 245.57 331.72C244.88 332.45 244.17 333.15 243.43 333.82C242.69 334.50 241.93 335.15 241.15 335.77C240.37 336.40 239.57 337.00 238.76 337.57C237.94 338.15 237.10 338.70 236.25 339.22C235.39 339.74 234.52 340.23 233.64 340.70C232.76 341.17 231.86 341.62 230.96 342.04C230.05 342.46 229.13 342.86 228.21 343.24C227.28 343.62 226.35 343.98 225.41 344.31C224.47 344.65 223.52 344.97 222.56 345.26C221.61 345.56 220.65 345.84 219.68 346.10C218.72 346.36 217.74 346.60 216.77 346.83C215.80 347.05 214.82 347.26 213.84 347.45C212.86 347.65 211.87 347.83 210.89 347.99C209.90 348.15 208.91 348.30 207.92 348.44C206.93 348.57 205.94 348.69 204.94 348.79C203.95 348.90 202.95 348.99 201.95 349.07C200.96 349.15 199.96 349.22 198.96 349.27C197.96 349.33 196.96 349.37 195.96 349.41C194.96 349.45 193.97 349.47 192.97 349.48C191.97 349.50 190.97 349.50 189.97 349.50C188.97 349.49 187.97 349.48 186.97 349.45C185.97 349.43 184.97 349.40 183.97 349.35C182.97 349.31 181.97 349.26 180.97 349.21C179.97 349.15 178.97 349.08 177.98 349.01C176.98 348.94 175.98 348.86 174.99 348.78C173.99 348.70 172.99 348.61 172.00 348.52C171.00 348.42 170.01 348.32 169.01 348.22C168.02 348.12 167.02 348.02 166.03 347.91C165.04 347.80 164.04 347.69 163.05 347.57C162.05 347.46 161.06 347.34 160.07 347.22C159.08 347.10 158.08 346.98 157.09 346.86C156.10 346.74 155.10 346.62 154.11 346.50C153.12 346.38 152.13 346.25 151.14 346.13C150.14 346.00 149.15 345.88 148.16 345.75C147.17 345.63 146.17 345.50 145.18 345.37C144.19 345.24 143.20 345.12 142.21 344.98C141.22 344.85 140.23 344.72 139.24 344.58C138.24 344.45 137.25 344.31 136.26 344.16C135.27 344.02 134.29 343.88 133.30 343.72C132.31 343.57 131.32 343.42 130.33 343.26C129.35 343.09 128.36 342.93 127.38 342.75C126.39 342.58 125.41 342.40 124.43 342.21C123.44 342.02 122.46 341.83 121.48 341.62C120.51 341.41 119.53 341.20 118.56 340.97C117.58 340.75 116.61 340.51 115.64 340.26C114.67 340.01 113.71 339.76 112.74 339.48C111.78 339.21 110.82 338.92 109.87 338.62C108.92 338.32 107.97 338.01 107.02 337.68C106.08 337.34 105.14 337.00 104.21 336.63C103.28 336.27 102.36 335.89 101.44 335.48C100.53 335.08 99.62 334.65 98.73 334.20C97.84 333.75 96.95 333.28 96.08 332.79C95.21 332.30 94.35 331.79 93.51 331.25C92.67 330.71 91.84 330.14 91.04 329.55C90.23 328.96 89.45 328.34 88.68 327.69C87.92 327.05 87.17 326.38 86.46 325.68C85.75 324.98 85.06 324.25 84.40 323.49C83.75 322.74 83.12 321.96 82.53 321.15C81.94 320.35 81.38 319.52 80.86 318.66C80.34 317.81 79.86 316.93 79.43 316.03C79.00 315.13 78.60 314.20 78.26 313.27C77.91 312.33 77.61 311.37 77.35 310.41C77.10 309.44 76.89 308.46 76.73 307.48C76.57 306.49 76.47 305.49 76.40 304.50C76.34 303.50 76.32 302.50 76.34 301.50C76.36 300.50 76.43 299.50 76.54 298.51C76.64 297.51 76.78 296.52 76.96 295.54C77.13 294.55 77.34 293.57 77.59 292.60C77.83 291.63 78.11 290.67 78.42 289.72C78.73 288.77 79.08 287.83 79.46 286.91C79.84 285.99 80.26 285.07 80.72 284.19C81.18 283.30 81.68 282.43 82.22 281.60C82.77 280.76 83.35 279.94 83.96 279.15C84.58 278.37 85.24 277.61 85.93 276.89C86.62 276.17 87.35 275.48 88.11 274.83C88.87 274.18 89.66 273.57 90.47 272.98C91.28 272.40 92.12 271.85 92.98 271.33C93.83 270.82 94.72 270.35 95.61 269.90C96.50 269.46 97.42 269.05 98.34 268.66C99.26 268.28 100.20 267.92 101.14 267.60C102.09 267.27 103.04 266.97 104.00 266.69C104.96 266.41 105.93 266.16 106.90 265.93C107.88 265.69 108.85 265.49 109.84 265.30C110.82 265.11 111.80 264.94 112.79 264.79C113.78 264.64 114.77 264.51 115.76 264.39C116.76 264.27 117.75 264.18 118.75 264.09C119.75 264.01 120.74 263.94 121.74 263.88C122.74 263.83 123.74 263.79 124.74 263.76C125.74 263.73 126.74 263.71 127.74 263.71C128.74 263.70 129.74 263.71 130.74 263.73C131.74 263.75 132.74 263.78 133.74 263.82C134.74 263.85 135.74 263.90 136.73 263.96C137.73 264.01 138.73 264.08 139.73 264.15C140.73 264.22 141.72 264.30 142.72 264.38C143.71 264.47 144.71 264.56 145.71 264.66C146.70 264.75 147.70 264.85 148.69 264.96C149.69 265.06 150.68 265.17 151.67 265.28C152.67 265.39 153.66 265.51 154.65 265.62C155.65 265.73 156.64 265.85 157.63 265.96C158.63 266.08 159.62 266.19 160.61 266.31C161.61 266.42 162.60 266.53 163.60 266.64C164.59 266.75 165.58 266.86 166.58 266.97C167.57 267.07 168.57 267.18 169.56 267.28C170.56 267.38 171.55 267.48 172.55 267.58C173.54 267.68 174.54 267.78 175.53 267.88C176.53 267.98 177.52 268.08 178.52 268.18C179.51 268.28 180.51 268.39 181.50 268.50C182.49 268.61 183.49 268.72 184.48 268.84C185.47 268.96 186.46 269.09 187.46 269.22C188.45 269.36 189.44 269.50 190.43 269.65C191.41 269.80 192.40 269.97 193.38 270.14C194.37 270.32 195.35 270.50 196.33 270.70C197.31 270.90 198.29 271.11 199.26 271.33C200.24 271.56 201.21 271.79 202.18 272.05C203.14 272.30 204.11 272.57 205.07 272.86C206.02 273.15 206.98 273.45 207.92 273.77C208.87 274.10 209.81 274.44 210.74 274.80C211.67 275.16 212.60 275.55 213.51 275.95C214.42 276.36 215.33 276.79 216.22 277.24C217.11 277.70 217.99 278.17 218.85 278.68C219.72 279.18 220.56 279.71 221.39 280.27C222.22 280.83 223.03 281.42 223.82 282.03C224.61 282.64 225.39 283.28 226.13 283.94C226.88 284.61 227.60 285.30 228.30 286.02C228.99 286.74 229.66 287.48 230.30 288.25C230.94 289.01 231.56 289.81 232.14 290.62C232.72 291.44 233.27 292.27 233.77 293.14C234.27 294.00 234.75 294.89 235.16 295.79C235.57 296.70 235.95 297.64 236.24 298.59C236.53 299.54 236.77 300.53 236.91 301.51C237.06 302.49 237.14 303.50 237.13 304.50C237.11 305.49 237.01 306.50 236.83 307.48C236.66 308.46 236.39 309.43 236.08 310.38C235.76 311.33 235.37 312.25 234.95 313.16C234.52 314.06 234.03 314.94 233.51 315.79C232.99 316.64 232.43 317.47 231.84 318.28C231.25 319.08 230.62 319.86 229.96 320.61C229.30 321.36 228.60 322.09 227.89 322.78C227.17 323.48 226.42 324.14 225.64 324.77C224.87 325.40 224.06 326.00 223.24 326.57C222.42 327.13 221.56 327.66 220.70 328.16C219.83 328.66 218.95 329.13 218.05 329.56C217.15 330.00 216.23 330.39 215.30 330.76C214.37 331.13 213.43 331.47 212.48 331.78C211.53 332.10 210.57 332.39 209.61 332.65C208.64 332.90 207.67 333.13 206.69 333.34C205.71 333.55 204.73 333.74 203.74 333.90C202.76 334.07 201.77 334.22 200.78 334.35C199.78 334.47 198.79 334.58 197.79 334.67C196.80 334.76 195.80 334.83 194.80 334.89C193.80 334.95 192.80 334.99 191.81 335.02C190.81 335.05 189.81 335.07 188.81 335.07C187.81 335.08 186.81 335.07 185.81 335.06C184.81 335.04 183.81 335.01 182.81 334.97C181.81 334.93 180.81 334.88 179.81 334.83C178.81 334.77 177.81 334.71 176.82 334.64C175.82 334.57 174.82 334.50 173.83 334.41C172.83 334.33 171.83 334.24 170.84 334.15C169.84 334.06 168.85 333.96 167.85 333.87C166.86 333.77 165.86 333.66 164.87 333.56C163.87 333.46 162.88 333.35 161.88 333.24C160.89 333.13 159.90 333.03 158.90 332.92C157.91 332.81 156.91 332.69 155.92 332.58C154.93 332.47 153.93 332.36 152.94 332.25C151.95 332.13 150.95 332.02 149.96 331.90C148.97 331.78 147.97 331.67 146.98 331.55C145.99 331.42 144.99 331.30 144.00 331.18C143.01 331.05 142.02 330.92 141.03 330.78C140.04 330.65 139.05 330.51 138.06 330.37C137.07 330.22 136.08 330.08 135.09 329.92C134.10 329.76 133.12 329.60 132.13 329.43C131.15 329.26 130.16 329.08 129.18 328.89C128.20 328.70 127.22 328.50 126.24 328.29C125.26 328.08 124.29 327.86 123.32 327.63C122.34 327.39 121.38 327.14 120.41 326.88C119.45 326.61 118.48 326.34 117.53 326.04C116.58 325.74 115.63 325.42 114.69 325.09C113.74 324.75 112.81 324.40 111.88 324.02C110.96 323.64 110.04 323.23 109.14 322.80C108.24 322.37 107.35 321.92 106.47 321.43C105.60 320.94 104.74 320.42 103.91 319.87C103.08 319.32 102.26 318.73 101.48 318.11C100.70 317.49 99.94 316.83 99.23 316.13C98.52 315.43 97.84 314.69 97.21 313.91C96.59 313.14 96.01 312.31 95.50 311.46C94.99 310.60 94.53 309.70 94.16 308.78C93.78 307.85 93.49 306.89 93.27 305.92C93.05 304.94 92.92 303.94 92.86 302.95C92.79 301.95 92.82 300.95 92.90 299.95C92.98 298.96 93.14 297.96 93.36 296.99C93.57 296.02 93.85 295.05 94.18 294.11C94.52 293.17 94.92 292.25 95.37 291.36C95.82 290.47 96.34 289.60 96.90 288.78C97.46 287.95 98.08 287.16 98.75 286.42C99.41 285.67 100.13 284.97 100.88 284.31C101.63 283.66 102.43 283.04 103.25 282.47C104.07 281.91 104.93 281.40 105.81 280.92C106.69 280.44 107.59 280.00 108.51 279.61C109.42 279.21 110.36 278.86 111.31 278.53C112.25 278.20 113.21 277.91 114.17 277.65C115.14 277.39 116.11 277.16 117.09 276.96C118.07 276.76 119.06 276.59 120.04 276.43C121.03 276.28 122.02 276.15 123.02 276.04C124.01 275.93 125.01 275.85 126.01 275.78C127.00 275.71 128.00 275.66 129.00 275.62C130.00 275.59 131.00 275.58 132.00 275.57C133.00 275.57 134.00 275.58 135.00 275.61C136.00 275.63 137.00 275.67 138.00 275.71C139.00 275.76 140.00 275.81 140.99 275.88C141.99 275.95 142.99 276.03 143.99 276.11C144.98 276.19 145.98 276.28 146.97 276.38C147.97 276.47 148.96 276.57 149.96 276.67C150.95 276.77 151.95 276.88 152.94 276.99C153.94 277.09 154.93 277.20 155.93 277.30C156.92 277.41 157.91 277.51 158.91 277.60C159.91 277.70 160.90 277.79 161.90 277.88C162.89 277.97 163.89 278.05 164.89 278.13C165.88 278.21 166.88 278.29 167.88 278.36C168.88 278.44 169.87 278.51 170.87 278.58C171.87 278.66 172.86 278.73 173.86 278.81C174.86 278.89 175.85 278.97 176.85 279.06C177.85 279.15 178.84 279.25 179.84 279.35C180.83 279.46 181.82 279.57 182.82 279.69C183.81 279.81 184.80 279.94 185.79 280.08C186.78 280.22 187.77 280.37 188.76 280.53C189.75 280.69 190.73 280.85 191.71 281.04C192.70 281.22 193.68 281.41 194.66 281.61C195.64 281.82 196.61 282.04 197.58 282.28C198.55 282.52 199.52 282.77 200.48 283.04C201.45 283.32 202.40 283.61 203.35 283.92C204.30 284.24 205.24 284.58 206.17 284.95C207.10 285.32 208.02 285.71 208.92 286.14C209.83 286.57 210.72 287.02 211.59 287.52C212.45 288.01 213.31 288.54 214.13 289.11C214.95 289.67 215.76 290.27 216.52 290.92C217.28 291.56 218.02 292.25 218.70 292.98C219.38 293.71 220.03 294.48 220.60 295.29C221.17 296.11 221.70 296.97 222.13 297.87C222.55 298.77 222.91 299.72 223.14 300.69C223.36 301.65 223.49 302.67 223.48 303.66C223.47 304.65 223.33 305.66 223.11 306.63C222.89 307.60 222.54 308.55 222.14 309.46C221.74 310.38 221.26 311.26 220.73 312.11C220.20 312.95 219.61 313.77 218.99 314.55C218.36 315.32 217.67 316.06 216.96 316.75C216.24 317.45 215.48 318.11 214.69 318.72C213.90 319.33 213.08 319.90 212.23 320.42C211.38 320.95 210.50 321.43 209.60 321.87C208.70 322.30 207.78 322.69 206.84 323.05C205.91 323.41 204.96 323.72 204.00 324.00C203.04 324.28 202.06 324.51 201.09 324.71C200.11 324.92 199.12 325.09 198.13 325.24C197.15 325.39 196.15 325.51 195.16 325.60C194.16 325.69 193.16 325.75 192.16 325.80C191.16 325.85 190.16 325.87 189.16 325.88C188.16 325.89 187.16 325.87 186.16 325.84C185.17 325.82 184.17 325.78 183.17 325.72C182.17 325.67 181.17 325.60 180.17 325.53C179.18 325.46 178.18 325.37 177.18 325.28C176.19 325.19 175.19 325.09 174.20 324.98C173.20 324.88 172.21 324.77 171.22 324.66C170.22 324.55 169.23 324.43 168.24 324.31C167.24 324.19 166.25 324.07 165.26 323.95C164.27 323.83 163.27 323.70 162.28 323.58C161.29 323.45 160.30 323.32 159.31 323.19C158.31 323.06 157.32 322.93 156.33 322.80C155.34 322.67 154.35 322.53 153.36 322.40C152.37 322.27 151.38 322.14 150.38 322.01C149.39 321.89 148.40 321.76 147.41 321.64C146.42 321.51 145.42 321.39 144.43 321.27C143.44 321.15 142.44 321.04 141.45 320.92C140.46 320.80 139.47 320.68 138.47 320.55C137.48 320.43 136.49 320.30 135.50 320.16C134.51 320.02 133.52 319.88 132.53 319.73C131.54 319.57 130.56 319.41 129.57 319.23C128.59 319.05 127.61 318.86 126.63 318.66C125.65 318.45 124.67 318.23 123.70 317.98C122.74 317.74 121.77 317.48 120.81 317.19C119.86 316.90 118.90 316.59 117.97 316.24C117.03 315.89 116.10 315.53 115.19 315.12C114.28 314.70 113.37 314.26 112.51 313.77C111.64 313.27 110.79 312.74 109.99 312.14C109.20 311.54 108.42 310.89 107.73 310.17C107.05 309.45 106.40 308.66 105.88 307.82C105.35 306.98 104.91 306.06 104.59 305.12C104.27 304.18 104.07 303.18 103.97 302.19C103.87 301.20 103.89 300.19 104.00 299.20C104.11 298.21 104.32 297.22 104.63 296.27C104.94 295.33 105.35 294.39 105.84 293.54C106.34 292.68 106.96 291.86 107.62 291.13C108.29 290.39 109.05 289.72 109.84 289.12C110.63 288.51 111.49 287.99 112.37 287.51C113.25 287.04 114.17 286.63 115.10 286.27C116.02 285.90 116.98 285.59 117.94 285.32C118.90 285.04 119.88 284.83 120.86 284.63C121.84 284.43 122.83 284.26 123.82 284.13C124.81 283.99 125.80 283.89 126.80 283.80C127.79 283.72 128.79 283.66 129.79 283.61C130.79 283.57 131.79 283.54 132.79 283.53C133.79 283.53 134.79 283.54 135.79 283.57C136.79 283.59 137.79 283.63 138.79 283.69C139.79 283.74 140.78 283.80 141.78 283.88C142.78 283.95 143.77 284.04 144.77 284.13C145.77 284.23 146.76 284.33 147.75 284.44C148.75 284.54 149.74 284.66 150.74 284.77C151.73 284.88 152.72 285.00 153.72 285.11C154.71 285.22 155.70 285.34 156.70 285.44C157.69 285.54 158.69 285.64 159.68 285.73C160.68 285.82 161.68 285.90 162.67 285.98C163.67 286.06 164.67 286.13 165.66 286.22C166.66 286.31 167.66 286.40 168.65 286.51C169.64 286.62 170.64 286.74 171.63 286.88C172.62 287.01 173.61 287.16 174.60 287.31C175.58 287.46 176.57 287.63 177.56 287.79C178.54 287.96 179.53 288.13 180.51 288.30C181.50 288.46 182.49 288.63 183.47 288.79C184.46 288.95 185.45 289.10 186.44 289.25C187.43 289.41 188.42 289.55 189.40 289.71C190.39 289.87 191.38 290.03 192.36 290.20C193.35 290.38 194.33 290.56 195.31 290.76C196.29 290.97 197.27 291.18 198.24 291.42C199.21 291.67 200.17 291.93 201.13 292.21C202.09 292.50 203.04 292.81 203.97 293.16C204.91 293.51 205.84 293.89 206.74 294.31C207.65 294.74 208.54 295.20 209.39 295.73C210.23 296.26 211.08 296.82 211.81 297.49C212.53 298.17 213.26 298.92 213.75 299.77C214.24 300.61 214.61 301.61 214.74 302.57C214.87 303.54 214.75 304.60 214.52 305.55C214.28 306.50 213.82 307.43 213.31 308.28C212.81 309.13 212.16 309.93 211.48 310.65C210.80 311.38 210.03 312.04 209.23 312.62C208.42 313.21 207.55 313.72 206.66 314.17C205.77 314.62 204.84 315.01 203.91 315.35C202.97 315.69 202.00 315.97 201.03 316.21C200.07 316.45 199.08 316.64 198.09 316.81C197.11 316.97 196.11 317.09 195.12 317.19C194.13 317.29 193.13 317.36 192.13 317.40C191.13 317.45 190.13 317.47 189.13 317.48C188.13 317.48 187.13 317.46 186.13 317.43C185.13 317.40 184.13 317.35 183.13 317.30C182.13 317.24 181.14 317.17 180.14 317.09C179.14 317.02 178.15 316.93 177.15 316.85C176.15 316.77 175.16 316.68 174.16 316.61C173.16 316.53 172.17 316.46 171.17 316.40C170.17 316.34 169.17 316.29 168.17 316.23C167.17 316.18 166.17 316.13 165.18 316.06C164.18 315.98 163.18 315.90 162.19 315.80C161.19 315.70 160.20 315.58 159.21 315.44C158.22 315.31 157.23 315.16 156.24 315.01C155.25 314.86 154.27 314.69 153.28 314.54C152.29 314.39 151.30 314.25 150.31 314.12C149.32 313.98 148.32 313.86 147.33 313.74C146.34 313.62 145.35 313.51 144.35 313.38C143.36 313.26 142.37 313.13 141.38 312.99C140.39 312.86 139.40 312.71 138.41 312.55C137.42 312.39 136.44 312.22 135.46 312.04C134.47 311.85 133.49 311.66 132.52 311.44C131.54 311.22 130.57 310.99 129.60 310.74C128.63 310.48 127.67 310.20 126.72 309.89C125.77 309.58 124.83 309.25 123.91 308.86C122.98 308.48 122.07 308.07 121.19 307.58C120.32 307.10 119.43 306.58 118.67 305.97C117.94 305.38 117.11 304.65 116.70 304.00C116.40 303.53 116.21 303.09 116.20 302.60C116.18 302.06 116.39 301.43 116.70 300.90C117.07 300.28 117.70 299.70 118.40 299.20C119.24 298.60 120.34 298.10 121.50 297.70C122.84 297.24 124.38 296.93 126.00 296.70C127.85 296.43 129.71 296.37 132.00 296.30C135.05 296.21 138.41 296.16 142.70 296.40C149.22 296.76 160.92 298.16 167.30 298.90C171.38 299.37 174.49 299.71 177.30 300.20C179.38 300.57 181.41 300.79 182.70 301.40C183.56 301.81 184.62 302.42 184.60 302.90C184.58 303.39 183.52 304.00 182.50 304.30C180.49 304.89 175.90 304.24 172.70 304.10C169.61 303.97 165.98 303.77 163.60 303.50C162.06 303.33 161.07 303.10 159.80 302.90" fill="none" stroke="#0000ff" stroke-width="1.4" stroke-linejoin="round" stroke-linecap="round"/>
<path d="M213.0 259.2L202.9 259.7L205.5 253.9Z" fill="#0000ff"/>
<path d="M359.09 298.03C359.21 297.11 359.27 296.18 359.45 295.26C359.62 294.35 359.86 293.44 360.14 292.55C360.42 291.65 360.76 290.76 361.14 289.88C361.53 289.00 361.96 288.14 362.43 287.29C362.90 286.43 363.42 285.59 363.97 284.78C364.53 283.95 365.13 283.14 365.76 282.36C366.39 281.57 367.05 280.79 367.75 280.05C368.44 279.29 369.17 278.56 369.93 277.86C370.68 277.15 371.46 276.46 372.27 275.80C373.07 275.14 373.90 274.50 374.74 273.89C375.59 273.28 376.45 272.70 377.33 272.14C378.21 271.59 379.11 271.06 380.01 270.57C380.91 270.07 381.83 269.61 382.75 269.18C383.67 268.75 384.60 268.35 385.54 267.98C386.46 267.62 387.40 267.29 388.34 266.99C389.28 266.69 390.23 266.43 391.18 266.19C392.12 265.95 393.07 265.74 394.03 265.55C394.98 265.37 395.94 265.21 396.91 265.08C397.87 264.94 398.84 264.84 399.80 264.75C400.77 264.66 401.75 264.60 402.72 264.55C403.70 264.50 404.68 264.48 405.66 264.47C406.64 264.46 407.62 264.47 408.61 264.49C409.60 264.52 410.59 264.56 411.58 264.61C412.57 264.66 413.56 264.73 414.56 264.80C415.56 264.87 416.56 264.96 417.56 265.05C418.56 265.15 419.56 265.25 420.57 265.36C421.57 265.46 422.58 265.58 423.59 265.70C424.60 265.81 425.61 265.93 426.62 266.06C427.63 266.18 428.65 266.30 429.66 266.42C430.68 266.55 431.70 266.67 432.71 266.79C433.73 266.90 434.75 267.02 435.77 267.13C436.79 267.24 437.81 267.34 438.83 267.44C439.86 267.54 440.88 267.62 441.90 267.71C442.92 267.80 443.95 267.88 444.97 267.96C445.99 268.04 447.01 268.12 448.03 268.20C449.05 268.28 450.07 268.36 451.08 268.44C452.10 268.53 453.11 268.62 454.12 268.71C455.13 268.81 456.14 268.91 457.14 269.02C458.14 269.13 459.14 269.25 460.13 269.38C461.13 269.52 462.12 269.66 463.10 269.82C464.08 269.98 465.06 270.15 466.04 270.34C467.01 270.54 467.97 270.74 468.93 270.97C469.89 271.20 470.85 271.45 471.79 271.72C472.73 271.99 473.67 272.28 474.60 272.60C475.53 272.92 476.45 273.26 477.36 273.64C478.27 274.01 479.17 274.41 480.06 274.84C480.95 275.27 481.83 275.73 482.70 276.23C483.57 276.72 484.43 277.25 485.27 277.81C486.12 278.37 486.95 278.96 487.75 279.58C488.55 280.20 489.34 280.85 490.10 281.53C490.85 282.21 491.58 282.91 492.28 283.64C492.97 284.37 493.64 285.12 494.27 285.90C494.89 286.68 495.49 287.48 496.03 288.30C496.57 289.12 497.08 289.97 497.53 290.83C497.98 291.69 498.39 292.57 498.74 293.47C499.09 294.36 499.38 295.28 499.63 296.21C499.87 297.13 500.05 298.08 500.19 299.02C500.33 299.97 500.41 300.93 500.45 301.90C500.48 302.86 500.47 303.83 500.41 304.80C500.35 305.78 500.24 306.75 500.09 307.72C499.94 308.69 499.74 309.66 499.50 310.62C499.27 311.59 498.98 312.55 498.67 313.49C498.35 314.44 497.98 315.38 497.59 316.30C497.19 317.23 496.76 318.14 496.29 319.03C495.82 319.92 495.31 320.80 494.78 321.65C494.24 322.51 493.67 323.34 493.07 324.15C492.47 324.95 491.84 325.74 491.18 326.49C490.52 327.24 489.83 327.97 489.11 328.66C488.40 329.35 487.66 330.01 486.90 330.63C486.14 331.25 485.35 331.84 484.54 332.39C483.73 332.95 482.90 333.47 482.05 333.95C481.20 334.44 480.33 334.89 479.45 335.32C478.56 335.74 477.65 336.13 476.74 336.50C475.82 336.87 474.88 337.20 473.93 337.51C472.98 337.82 472.02 338.10 471.05 338.36C470.08 338.62 469.09 338.85 468.10 339.07C467.10 339.28 466.10 339.46 465.09 339.63C464.08 339.80 463.06 339.94 462.04 340.07C461.01 340.20 459.99 340.30 458.95 340.39C457.92 340.48 456.89 340.55 455.85 340.61C454.82 340.66 453.78 340.70 452.74 340.73C451.70 340.76 450.67 340.77 449.63 340.77C448.60 340.77 447.57 340.76 446.54 340.74C445.52 340.72 444.50 340.68 443.48 340.64C442.47 340.60 441.46 340.55 440.46 340.50C439.46 340.44 438.46 340.37 437.46 340.30C436.47 340.23 435.48 340.15 434.49 340.06C433.51 339.97 432.52 339.88 431.54 339.78C430.56 339.68 429.59 339.57 428.61 339.46C427.64 339.35 426.66 339.23 425.69 339.11C424.72 338.99 423.75 338.86 422.78 338.73C421.81 338.60 420.84 338.46 419.87 338.32C418.90 338.18 417.93 338.04 416.96 337.89C415.99 337.75 415.02 337.60 414.04 337.45C413.07 337.30 412.10 337.14 411.12 336.99C410.14 336.83 409.16 336.68 408.18 336.52C407.19 336.36 406.21 336.21 405.22 336.05C404.23 335.89 403.23 335.73 402.24 335.57C401.24 335.40 400.25 335.24 399.25 335.07C398.25 334.89 397.25 334.71 396.26 334.52C395.26 334.32 394.27 334.12 393.28 333.90C392.29 333.68 391.31 333.44 390.33 333.18C389.35 332.93 388.38 332.66 387.42 332.35C386.46 332.05 385.50 331.74 384.56 331.38C383.62 331.03 382.68 330.66 381.76 330.25C380.84 329.84 379.93 329.40 379.04 328.93C378.15 328.45 377.27 327.94 376.41 327.40C375.55 326.85 374.71 326.26 373.89 325.65C373.07 325.03 372.26 324.38 371.49 323.70C370.72 323.02 369.96 322.31 369.24 321.58C368.52 320.84 367.82 320.08 367.16 319.29C366.50 318.51 365.86 317.70 365.26 316.87C364.67 316.05 364.11 315.20 363.58 314.34C363.06 313.48 362.57 312.60 362.13 311.71C361.69 310.82 361.29 309.92 360.93 309.01C360.58 308.10 360.27 307.18 360.01 306.25C359.75 305.33 359.54 304.40 359.38 303.46C359.23 302.54 359.12 301.59 359.07 300.67C359.03 299.77 359.08 298.91 359.09 298.03Z" fill="none" stroke="#ff0000" stroke-width="4.2" stroke-linejoin="round"/>
<path d="M430.46 249.66C431.62 249.79 432.78 249.91 433.94 250.04C435.10 250.16 436.26 250.28 437.42 250.41C438.58 250.53 439.74 250.64 440.90 250.76C442.06 250.88 443.23 250.99 444.39 251.11C445.55 251.22 446.71 251.33 447.87 251.44C449.03 251.55 450.19 251.66 451.35 251.77C452.52 251.88 453.68 251.99 454.84 252.10C456.00 252.22 457.16 252.33 458.32 252.45C459.48 252.57 460.64 252.69 461.80 252.82C462.96 252.94 464.12 253.08 465.28 253.22C466.44 253.36 467.59 253.51 468.75 253.67C469.90 253.84 471.06 254.01 472.21 254.20C473.36 254.39 474.51 254.59 475.66 254.81C476.80 255.03 477.94 255.27 479.08 255.53C480.22 255.79 481.35 256.07 482.48 256.38C483.60 256.69 484.72 257.02 485.83 257.39C486.93 257.76 488.03 258.15 489.12 258.58C490.20 259.01 491.27 259.48 492.32 259.99C493.37 260.50 494.41 261.04 495.41 261.62C496.42 262.21 497.41 262.83 498.37 263.50C499.32 264.16 500.25 264.87 501.15 265.62C502.05 266.37 502.91 267.15 503.74 267.97C504.57 268.79 505.36 269.65 506.13 270.53C506.89 271.41 507.62 272.33 508.32 273.26C509.01 274.19 509.68 275.16 510.32 276.13C510.97 277.10 511.58 278.09 512.17 279.10C512.77 280.10 513.34 281.12 513.89 282.15C514.44 283.17 514.98 284.21 515.48 285.26C515.99 286.31 516.48 287.37 516.94 288.45C517.39 289.52 517.82 290.61 518.20 291.71C518.58 292.81 518.93 293.93 519.21 295.06C519.49 296.19 519.73 297.34 519.90 298.49C520.07 299.64 520.18 300.81 520.23 301.97C520.28 303.14 520.27 304.31 520.20 305.47C520.14 306.64 520.01 307.80 519.84 308.95C519.67 310.10 519.45 311.25 519.19 312.39C518.93 313.53 518.62 314.65 518.28 315.77C517.93 316.88 517.55 317.99 517.13 319.07C516.72 320.16 516.26 321.24 515.78 322.30C515.29 323.36 514.78 324.41 514.23 325.44C513.68 326.47 513.10 327.48 512.48 328.47C511.87 329.46 511.23 330.44 510.55 331.39C509.87 332.33 509.16 333.26 508.41 334.16C507.67 335.06 506.90 335.94 506.09 336.78C505.29 337.63 504.45 338.44 503.59 339.23C502.73 340.01 501.84 340.77 500.93 341.50C500.02 342.22 499.08 342.92 498.12 343.58C497.16 344.24 496.18 344.88 495.18 345.48C494.18 346.08 493.16 346.65 492.12 347.18C491.09 347.72 490.03 348.23 488.97 348.70C487.91 349.18 486.83 349.63 485.74 350.05C484.65 350.46 483.55 350.85 482.44 351.21C481.33 351.57 480.21 351.90 479.09 352.21C477.96 352.52 476.83 352.80 475.69 353.06C474.55 353.31 473.41 353.54 472.26 353.75C471.11 353.95 469.96 354.14 468.80 354.30C467.65 354.46 466.49 354.60 465.33 354.72C464.17 354.85 463.01 354.95 461.84 355.03C460.68 355.11 459.51 355.18 458.35 355.23C457.18 355.28 456.02 355.31 454.85 355.33C453.68 355.35 452.52 355.35 451.35 355.34C450.18 355.33 449.02 355.31 447.85 355.28C446.68 355.25 445.52 355.21 444.35 355.16C443.19 355.11 442.02 355.05 440.86 354.99C439.69 354.92 438.53 354.85 437.36 354.77C436.20 354.69 435.04 354.61 433.87 354.52C432.71 354.43 431.55 354.34 430.38 354.25C429.22 354.15 428.06 354.06 426.89 353.96C425.73 353.86 424.57 353.76 423.41 353.65C422.25 353.55 421.08 353.44 419.92 353.33C418.76 353.22 417.60 353.11 416.44 353.00C415.28 352.88 414.12 352.77 412.96 352.64C411.80 352.52 410.64 352.40 409.48 352.26C408.32 352.13 407.16 352.00 406.00 351.85C404.84 351.71 403.69 351.56 402.53 351.39C401.38 351.23 400.22 351.06 399.07 350.88C397.92 350.70 396.77 350.51 395.62 350.31C394.47 350.10 393.32 349.88 392.18 349.65C391.04 349.42 389.90 349.17 388.76 348.91C387.62 348.64 386.49 348.36 385.36 348.06C384.24 347.75 383.11 347.44 382.00 347.09C380.89 346.75 379.78 346.38 378.68 345.99C377.58 345.60 376.49 345.19 375.41 344.74C374.33 344.30 373.26 343.83 372.21 343.33C371.15 342.83 370.11 342.31 369.09 341.74C368.07 341.18 367.06 340.59 366.08 339.96C365.10 339.33 364.13 338.66 363.20 337.96C362.27 337.26 361.36 336.53 360.49 335.76C359.61 334.99 358.77 334.18 357.96 333.34C357.15 332.50 356.38 331.62 355.65 330.71C354.92 329.80 354.22 328.86 353.57 327.90C352.91 326.93 352.30 325.94 351.72 324.93C351.14 323.91 350.60 322.88 350.10 321.83C349.59 320.78 349.12 319.70 348.69 318.62C348.25 317.54 347.85 316.45 347.48 315.34C347.11 314.23 346.77 313.12 346.47 311.99C346.17 310.86 345.90 309.73 345.68 308.58C345.45 307.44 345.27 306.28 345.14 305.12C345.01 303.96 344.93 302.80 344.91 301.63C344.88 300.47 344.92 299.30 345.01 298.14C345.10 296.97 345.25 295.81 345.46 294.67C345.67 293.52 345.94 292.38 346.26 291.26C346.58 290.14 346.95 289.03 347.37 287.94C347.79 286.86 348.26 285.78 348.77 284.73C349.28 283.69 349.83 282.66 350.42 281.65C351.00 280.64 351.63 279.65 352.29 278.69C352.94 277.73 353.64 276.79 354.36 275.87C355.08 274.96 355.84 274.06 356.62 273.20C357.40 272.33 358.21 271.50 359.05 270.68C359.89 269.87 360.75 269.09 361.64 268.33C362.53 267.57 363.44 266.85 364.38 266.15C365.31 265.45 366.27 264.78 367.25 264.14C368.22 263.51 369.22 262.90 370.23 262.32C371.24 261.74 372.27 261.19 373.32 260.67C374.36 260.15 375.42 259.66 376.49 259.20C377.56 258.74 378.65 258.31 379.74 257.90C380.84 257.50 381.94 257.13 383.06 256.78C384.17 256.43 385.29 256.11 386.42 255.82C387.55 255.53 388.69 255.26 389.83 255.02C390.97 254.78 392.12 254.56 393.27 254.37C394.42 254.18 395.58 254.01 396.73 253.87C397.89 253.73 399.05 253.61 400.21 253.51C401.38 253.42 402.54 253.34 403.71 253.29C404.87 253.23 406.04 253.19 407.21 253.18C408.37 253.16 409.54 253.17 410.71 253.19C411.87 253.21 413.04 253.25 414.20 253.30C415.37 253.35 416.53 253.42 417.70 253.50C418.86 253.58 420.02 253.68 421.19 253.79C422.35 253.89 423.51 254.01 424.67 254.13C425.83 254.25 426.99 254.39 428.15 254.53C429.30 254.66 430.46 254.81 431.62 254.96C432.78 255.10 433.93 255.25 435.09 255.40C436.25 255.55 437.40 255.71 438.56 255.86C439.72 256.01 440.88 256.15 442.03 256.30C443.19 256.45 444.35 256.59 445.51 256.74C446.66 256.88 447.82 257.02 448.98 257.16C450.14 257.30 451.30 257.44 452.46 257.58C453.61 257.72 454.77 257.86 455.93 258.00C457.09 258.14 458.25 258.29 459.40 258.44C460.56 258.59 461.72 258.75 462.87 258.91C464.02 259.08 465.18 259.25 466.33 259.44C467.48 259.63 468.63 259.83 469.78 260.04C470.92 260.26 472.07 260.49 473.21 260.74C474.35 260.99 475.48 261.26 476.61 261.55C477.74 261.85 478.86 262.16 479.98 262.51C481.09 262.85 482.20 263.22 483.30 263.62C484.39 264.01 485.48 264.44 486.55 264.90C487.62 265.37 488.68 265.86 489.72 266.39C490.76 266.92 491.78 267.49 492.77 268.10C493.77 268.71 494.74 269.36 495.68 270.04C496.62 270.73 497.54 271.46 498.42 272.23C499.29 273.00 500.13 273.81 500.93 274.66C501.73 275.50 502.50 276.39 503.22 277.31C503.93 278.23 504.61 279.18 505.25 280.16C505.88 281.13 506.47 282.14 507.03 283.17C507.58 284.20 508.09 285.25 508.57 286.31C509.05 287.37 509.48 288.46 509.89 289.55C510.29 290.65 510.65 291.76 510.98 292.88C511.30 294.00 511.58 295.13 511.81 296.27C512.04 297.42 512.23 298.57 512.35 299.73C512.48 300.89 512.55 302.06 512.55 303.22C512.55 304.39 512.49 305.56 512.36 306.72C512.24 307.88 512.05 309.03 511.81 310.17C511.57 311.31 511.27 312.44 510.93 313.56C510.58 314.67 510.19 315.77 509.76 316.86C509.34 317.94 508.87 319.01 508.37 320.07C507.87 321.12 507.34 322.16 506.78 323.18C506.21 324.20 505.62 325.21 504.99 326.19C504.36 327.17 503.70 328.14 503.01 329.08C502.31 330.01 501.59 330.93 500.82 331.81C500.06 332.69 499.26 333.54 498.43 334.36C497.59 335.17 496.72 335.96 495.82 336.70C494.93 337.44 493.99 338.15 493.04 338.82C492.08 339.48 491.10 340.11 490.09 340.70C489.09 341.29 488.05 341.84 487.01 342.35C485.96 342.87 484.89 343.34 483.81 343.78C482.73 344.22 481.64 344.63 480.53 345.00C479.43 345.37 478.31 345.71 477.19 346.02C476.06 346.33 474.93 346.61 473.79 346.86C472.65 347.11 471.50 347.33 470.35 347.53C469.20 347.73 468.05 347.90 466.89 348.05C465.74 348.20 464.58 348.33 463.41 348.44C462.25 348.54 461.09 348.63 459.92 348.70C458.76 348.77 457.59 348.82 456.43 348.85C455.26 348.89 454.09 348.90 452.93 348.91C451.76 348.92 450.59 348.91 449.43 348.89C448.26 348.87 447.09 348.84 445.93 348.80C444.76 348.77 443.60 348.72 442.43 348.66C441.27 348.61 440.10 348.55 438.94 348.48C437.77 348.42 436.61 348.35 435.44 348.28C434.28 348.21 433.11 348.13 431.95 348.06C430.79 347.98 429.62 347.91 428.46 347.83C427.29 347.76 426.13 347.68 424.96 347.60C423.80 347.53 422.64 347.45 421.47 347.37C420.31 347.29 419.14 347.22 417.98 347.14C416.82 347.06 415.65 346.98 414.49 346.89C413.32 346.81 412.16 346.72 411.00 346.62C409.84 346.53 408.67 346.43 407.51 346.32C406.35 346.21 405.19 346.10 404.03 345.97C402.87 345.84 401.71 345.70 400.55 345.55C399.40 345.40 398.24 345.23 397.09 345.05C395.94 344.87 394.79 344.68 393.64 344.47C392.49 344.25 391.35 344.03 390.21 343.78C389.07 343.53 387.93 343.26 386.80 342.96C385.68 342.67 384.55 342.36 383.43 342.02C382.32 341.68 381.21 341.32 380.11 340.93C379.01 340.54 377.92 340.13 376.84 339.68C375.76 339.24 374.69 338.77 373.64 338.26C372.59 337.75 371.55 337.22 370.54 336.64C369.52 336.07 368.52 335.47 367.55 334.82C366.58 334.17 365.63 333.49 364.72 332.76C363.81 332.04 362.92 331.28 362.08 330.47C361.24 329.66 360.43 328.81 359.68 327.92C358.93 327.03 358.22 326.10 357.58 325.13C356.93 324.16 356.33 323.15 355.79 322.12C355.25 321.09 354.77 320.02 354.34 318.94C353.91 317.86 353.53 316.75 353.19 315.63C352.86 314.52 352.57 313.38 352.31 312.25C352.05 311.11 351.84 309.96 351.65 308.81C351.45 307.66 351.29 306.50 351.17 305.34C351.04 304.18 350.94 303.02 350.89 301.86C350.83 300.69 350.81 299.52 350.84 298.36C350.88 297.19 350.95 296.02 351.10 294.87C351.25 293.71 351.45 292.56 351.72 291.42C351.99 290.29 352.33 289.17 352.73 288.08C353.14 286.99 353.62 285.91 354.15 284.88C354.68 283.84 355.28 282.83 355.92 281.86C356.56 280.89 357.26 279.95 358.00 279.05C358.74 278.15 359.52 277.28 360.34 276.45C361.15 275.61 362.01 274.81 362.89 274.05C363.76 273.28 364.68 272.55 365.61 271.85C366.54 271.15 367.50 270.48 368.47 269.84C369.45 269.20 370.44 268.59 371.45 268.01C372.47 267.43 373.50 266.88 374.54 266.35C375.58 265.83 376.64 265.33 377.71 264.87C378.77 264.40 379.86 263.96 380.95 263.54C382.04 263.13 383.14 262.74 384.25 262.38C385.36 262.02 386.47 261.68 387.60 261.37C388.72 261.06 389.85 260.78 390.99 260.52C392.13 260.26 393.27 260.02 394.42 259.81C395.57 259.59 396.72 259.40 397.87 259.24C399.03 259.07 400.18 258.93 401.34 258.80C402.50 258.68 403.67 258.58 404.83 258.50C405.99 258.42 407.16 258.36 408.33 258.32C409.49 258.28 410.66 258.26 411.83 258.26C412.99 258.26 414.16 258.27 415.32 258.31C416.49 258.34 417.66 258.39 418.82 258.45C419.99 258.51 421.15 258.59 422.31 258.68C423.48 258.77 424.64 258.87 425.80 258.99C426.96 259.10 428.12 259.22 429.28 259.35C430.44 259.47 431.60 259.61 432.76 259.75C433.92 259.89 435.08 260.03 436.23 260.17C437.39 260.32 438.55 260.46 439.71 260.61C440.86 260.75 442.02 260.90 443.18 261.04C444.34 261.18 445.49 261.33 446.65 261.47C447.81 261.61 448.97 261.75 450.13 261.89C451.29 262.03 452.44 262.17 453.60 262.31C454.76 262.46 455.92 262.60 457.07 262.76C458.23 262.91 459.39 263.07 460.54 263.24C461.69 263.40 462.85 263.58 464.00 263.77C465.15 263.96 466.30 264.16 467.45 264.38C468.59 264.60 469.74 264.83 470.87 265.09C472.01 265.34 473.15 265.62 474.27 265.92C475.40 266.22 476.52 266.54 477.63 266.90C478.74 267.25 479.85 267.63 480.94 268.05C482.02 268.47 483.10 268.92 484.16 269.40C485.22 269.89 486.27 270.41 487.29 270.98C488.30 271.55 489.31 272.16 490.27 272.81C491.24 273.46 492.18 274.16 493.08 274.90C493.98 275.64 494.85 276.42 495.67 277.24C496.50 278.07 497.28 278.94 498.02 279.84C498.76 280.73 499.46 281.67 500.12 282.64C500.78 283.60 501.40 284.59 501.98 285.60C502.56 286.61 503.10 287.65 503.61 288.69C504.12 289.74 504.60 290.81 505.03 291.89C505.47 292.97 505.87 294.07 506.22 295.18C506.57 296.30 506.88 297.43 507.12 298.57C507.36 299.70 507.55 300.86 507.65 302.02C507.76 303.18 507.79 304.36 507.75 305.52C507.71 306.68 507.58 307.85 507.39 309.00C507.20 310.15 506.93 311.29 506.61 312.41C506.29 313.53 505.90 314.63 505.48 315.72C505.06 316.81 504.59 317.88 504.09 318.93C503.58 319.98 503.04 321.02 502.47 322.03C501.90 323.05 501.29 324.05 500.66 325.02C500.02 326.00 499.35 326.96 498.64 327.88C497.93 328.81 497.19 329.71 496.41 330.58C495.62 331.44 494.81 332.28 493.95 333.07C493.10 333.86 492.21 334.62 491.28 335.33C490.36 336.05 489.40 336.72 488.42 337.34C487.44 337.97 486.42 338.55 485.39 339.09C484.36 339.63 483.30 340.13 482.23 340.59C481.15 341.05 480.06 341.46 478.96 341.84C477.85 342.22 476.74 342.55 475.61 342.86C474.49 343.17 473.35 343.44 472.21 343.68C471.07 343.92 469.92 344.13 468.77 344.31C467.61 344.50 466.46 344.65 465.30 344.78C464.14 344.91 462.98 345.01 461.81 345.10C460.65 345.18 459.48 345.25 458.32 345.29C457.15 345.33 455.99 345.36 454.82 345.37C453.65 345.38 452.49 345.37 451.32 345.35C450.15 345.33 448.99 345.29 447.82 345.25C446.66 345.21 445.49 345.15 444.33 345.08C443.16 345.02 442.00 344.95 440.83 344.87C439.67 344.79 438.50 344.70 437.34 344.62C436.18 344.53 435.01 344.44 433.85 344.34C432.69 344.25 431.53 344.15 430.36 344.06C429.20 343.96 428.04 343.86 426.88 343.77C425.71 343.67 424.55 343.57 423.39 343.48C422.22 343.38 421.06 343.28 419.90 343.18C418.74 343.08 417.57 342.99 416.41 342.88C415.25 342.78 414.09 342.67 412.93 342.56C411.77 342.44 410.61 342.33 409.45 342.20C408.29 342.07 407.13 341.94 405.97 341.80C404.81 341.65 403.65 341.50 402.50 341.33C401.35 341.17 400.19 340.99 399.04 340.80C397.89 340.61 396.74 340.41 395.60 340.19C394.45 339.97 393.31 339.73 392.17 339.48C391.03 339.23 389.89 338.96 388.76 338.67C387.63 338.38 386.51 338.08 385.39 337.74C384.27 337.41 383.16 337.06 382.05 336.68C380.95 336.30 379.85 335.90 378.77 335.47C377.69 335.03 376.61 334.57 375.56 334.07C374.51 333.58 373.46 333.05 372.45 332.47C371.43 331.90 370.43 331.29 369.47 330.63C368.51 329.98 367.57 329.28 366.68 328.53C365.79 327.78 364.93 326.98 364.12 326.14C363.32 325.30 362.56 324.40 361.86 323.47C361.17 322.54 360.53 321.56 359.94 320.55C359.35 319.54 358.83 318.50 358.35 317.43C357.87 316.37 357.45 315.28 357.07 314.18C356.69 313.07 356.37 311.95 356.07 310.82C355.78 309.70 355.52 308.55 355.31 307.41C355.09 306.26 354.91 305.11 354.78 303.95C354.65 302.79 354.55 301.62 354.52 300.46C354.48 299.30 354.49 298.12 354.57 296.96C354.65 295.80 354.79 294.64 354.99 293.49C355.19 292.34 355.47 291.20 355.80 290.09C356.13 288.97 356.53 287.87 356.98 286.79C357.43 285.72 357.95 284.67 358.52 283.65C359.09 282.64 359.71 281.64 360.39 280.69C361.06 279.74 361.78 278.82 362.55 277.94C363.31 277.06 364.13 276.22 364.97 275.42C365.82 274.62 366.72 273.87 367.63 273.15C368.55 272.43 369.51 271.76 370.49 271.12C371.47 270.49 372.47 269.90 373.50 269.34C374.52 268.79 375.57 268.27 376.64 267.79C377.70 267.31 378.78 266.87 379.87 266.46C380.96 266.05 382.07 265.67 383.18 265.32C384.29 264.97 385.42 264.65 386.55 264.36C387.67 264.07 388.81 263.80 389.95 263.56C391.09 263.31 392.24 263.10 393.39 262.90C394.54 262.71 395.70 262.54 396.85 262.38C398.01 262.23 399.17 262.10 400.33 261.99C401.49 261.88 402.65 261.78 403.82 261.71C404.98 261.63 406.15 261.58 407.31 261.54C408.48 261.50 409.65 261.48 410.81 261.47C411.98 261.47 413.15 261.48 414.31 261.51C415.48 261.53 416.64 261.57 417.81 261.63C418.98 261.68 420.14 261.75 421.30 261.83C422.47 261.91 423.63 262.00 424.79 262.10C425.96 262.20 427.12 262.31 428.28 262.43C429.44 262.54 430.60 262.67 431.76 262.80C432.92 262.92 434.08 263.06 435.24 263.19C436.40 263.32 437.55 263.46 438.71 263.60C439.87 263.73 441.03 263.87 442.19 264.00C443.35 264.13 444.51 264.26 445.67 264.40C446.83 264.53 447.99 264.66 449.14 264.79C450.30 264.92 451.46 265.05 452.62 265.19C453.78 265.32 454.94 265.46 456.10 265.61C457.25 265.75 458.41 265.90 459.57 266.07C460.72 266.23 461.88 266.40 463.03 266.59C464.18 266.78 465.33 266.98 466.47 267.20C467.62 267.43 468.76 267.66 469.90 267.93C471.03 268.19 472.17 268.47 473.29 268.79C474.41 269.10 475.53 269.44 476.64 269.81C477.74 270.19 478.84 270.59 479.91 271.03C480.99 271.48 482.06 271.95 483.10 272.48C484.14 273.00 485.17 273.56 486.16 274.17C487.16 274.78 488.13 275.43 489.06 276.13C490.00 276.83 490.90 277.57 491.76 278.36C492.62 279.14 493.45 279.97 494.23 280.83C495.01 281.70 495.76 282.60 496.46 283.53C497.17 284.46 497.83 285.42 498.46 286.40C499.09 287.38 499.68 288.39 500.24 289.41C500.80 290.44 501.32 291.48 501.80 292.55C502.28 293.61 502.72 294.69 503.10 295.80C503.48 296.90 503.82 298.02 504.07 299.16C504.32 300.29 504.52 301.45 504.63 302.61C504.73 303.77 504.75 304.94 504.69 306.11C504.63 307.27 504.48 308.43 504.26 309.58C504.05 310.72 503.75 311.85 503.40 312.97C503.06 314.08 502.64 315.17 502.19 316.25C501.75 317.33 501.25 318.38 500.72 319.42C500.19 320.46 499.62 321.48 499.01 322.48C498.41 323.48 497.77 324.46 497.10 325.41C496.42 326.36 495.71 327.29 494.96 328.18C494.21 329.07 493.42 329.93 492.59 330.75C491.77 331.57 490.90 332.36 489.99 333.09C489.09 333.83 488.15 334.53 487.18 335.18C486.22 335.83 485.21 336.43 484.19 336.99C483.17 337.54 482.11 338.06 481.05 338.53C479.98 339.00 478.89 339.42 477.79 339.81C476.69 340.19 475.57 340.53 474.45 340.84C473.32 341.15 472.19 341.42 471.05 341.66C469.91 341.90 468.76 342.11 467.60 342.29C466.45 342.47 465.29 342.61 464.13 342.74C462.97 342.87 461.81 342.96 460.65 343.04C459.48 343.12 458.32 343.17 457.15 343.20C455.98 343.24 454.82 343.25 453.65 343.25C452.48 343.25 451.32 343.23 450.15 343.20C448.98 343.16 447.82 343.12 446.65 343.06C445.49 343.00 444.32 342.93 443.16 342.85C442.00 342.78 440.83 342.69 439.67 342.59C438.51 342.50 437.34 342.40 436.18 342.29C435.02 342.19 433.86 342.08 432.70 341.97C431.54 341.86 430.38 341.74 429.21 341.62C428.05 341.51 426.89 341.39 425.73 341.27C424.57 341.15 423.41 341.04 422.25 340.91C421.09 340.79 419.93 340.67 418.77 340.55C417.61 340.42 416.45 340.30 415.29 340.16C414.13 340.03 412.97 339.90 411.81 339.76C410.66 339.61 409.50 339.47 408.34 339.31C407.19 339.16 406.03 339.00 404.88 338.82C403.72 338.65 402.57 338.47 401.42 338.28C400.27 338.09 399.12 337.89 397.97 337.67C396.83 337.46 395.68 337.23 394.54 336.99C393.40 336.75 392.26 336.49 391.13 336.22C389.99 335.94 388.86 335.66 387.74 335.34C386.61 335.03 385.49 334.70 384.38 334.35C383.27 333.99 382.17 333.61 381.08 333.20C379.99 332.79 378.90 332.35 377.84 331.87C376.78 331.39 375.72 330.89 374.70 330.33C373.67 329.77 372.67 329.18 371.70 328.53C370.73 327.88 369.78 327.19 368.89 326.45C367.99 325.70 367.13 324.90 366.33 324.06C365.53 323.22 364.77 322.32 364.07 321.39C363.37 320.46 362.73 319.47 362.14 318.47C361.55 317.47 361.01 316.43 360.52 315.37C360.03 314.32 359.59 313.23 359.19 312.14C358.79 311.04 358.43 309.93 358.12 308.80C357.81 307.68 357.54 306.54 357.33 305.40C357.12 304.25 356.95 303.09 356.85 301.93C356.76 300.77 356.72 299.60 356.75 298.43C356.79 297.27 356.89 296.10 357.07 294.95C357.24 293.80 357.49 292.65 357.79 291.53C358.10 290.40 358.47 289.29 358.89 288.21C359.31 287.12 359.80 286.05 360.33 285.02C360.86 283.98 361.44 282.96 362.08 281.99C362.71 281.01 363.39 280.06 364.12 279.15C364.85 278.24 365.63 277.36 366.45 276.54C367.27 275.71 368.13 274.92 369.03 274.18C369.93 273.44 370.88 272.74 371.84 272.10C372.81 271.45 373.82 270.85 374.84 270.29C375.86 269.73 376.92 269.22 377.98 268.75C379.05 268.28 380.14 267.85 381.23 267.46C382.33 267.06 383.45 266.71 384.57 266.39C385.69 266.06 386.82 265.78 387.95 265.51C389.09 265.25 390.24 265.02 391.38 264.81C392.53 264.60 393.68 264.42 394.84 264.26C395.99 264.10 397.15 263.97 398.32 263.85C399.48 263.74 400.64 263.64 401.80 263.56C402.97 263.49 404.13 263.43 405.30 263.39C406.46 263.35 407.63 263.33 408.80 263.32C409.96 263.31 411.13 263.32 412.30 263.35C413.46 263.37 414.63 263.41 415.80 263.46C416.96 263.51 418.13 263.58 419.29 263.65C420.45 263.73 421.62 263.82 422.78 263.91C423.94 264.01 425.11 264.12 426.27 264.23C427.43 264.34 428.59 264.46 429.75 264.59C430.91 264.71 432.07 264.84 433.23 264.97C434.39 265.09 435.55 265.22 436.71 265.35C437.87 265.48 439.03 265.61 440.19 265.73C441.35 265.85 442.51 265.98 443.67 266.10C444.83 266.22 445.99 266.33 447.15 266.45C448.31 266.57 449.47 266.69 450.63 266.81C451.79 266.93 452.95 267.06 454.11 267.19C455.27 267.32 456.43 267.46 457.58 267.60C458.74 267.75 459.90 267.91 461.05 268.08C462.21 268.26 463.36 268.44 464.51 268.65C465.65 268.86 466.80 269.08 467.94 269.33C469.08 269.58 470.21 269.84 471.34 270.14C472.47 270.44 473.59 270.77 474.70 271.13C475.81 271.49 476.91 271.88 477.99 272.31C479.08 272.74 480.15 273.20 481.20 273.71C482.25 274.22 483.28 274.77 484.28 275.37C485.29 275.96 486.27 276.60 487.21 277.28C488.15 277.97 489.07 278.69 489.95 279.46C490.82 280.23 491.66 281.05 492.46 281.90C493.26 282.74 494.02 283.63 494.74 284.55C495.47 285.46 496.15 286.41 496.80 287.38C497.44 288.35 498.05 289.35 498.61 290.37C499.18 291.39 499.71 292.43 500.18 293.50C500.65 294.57 501.08 295.66 501.44 296.76C501.80 297.87 502.10 299.01 502.31 300.15C502.53 301.29 502.67 302.46 502.72 303.62C502.77 304.78 502.73 305.96 502.61 307.12C502.50 308.28 502.29 309.43 502.02 310.57C501.76 311.70 501.41 312.82 501.02 313.92C500.64 315.02 500.19 316.10 499.71 317.16C499.23 318.22 498.70 319.27 498.14 320.29C497.58 321.31 496.98 322.32 496.34 323.29C495.70 324.26 495.03 325.22 494.31 326.14C493.59 327.05 492.83 327.94 492.03 328.79C491.23 329.64 490.38 330.45 489.51 331.22C488.63 331.98 487.71 332.70 486.76 333.38C485.81 334.05 484.82 334.69 483.81 335.27C482.80 335.85 481.76 336.38 480.70 336.87C479.65 337.36 478.56 337.81 477.47 338.21C476.38 338.62 475.27 338.98 474.15 339.30C473.03 339.63 471.89 339.92 470.76 340.17C469.62 340.43 468.47 340.64 467.32 340.83C466.17 341.03 465.01 341.18 463.85 341.32C462.70 341.45 461.53 341.56 460.37 341.64C459.21 341.73 458.04 341.79 456.87 341.83C455.71 341.87 454.54 341.89 453.38 341.90C452.21 341.90 451.04 341.88 449.88 341.85C448.71 341.83 447.54 341.78 446.38 341.72C445.21 341.67 444.05 341.60 442.88 341.52C441.72 341.44 440.56 341.35 439.39 341.25C438.23 341.15 437.07 341.04 435.91 340.93C434.75 340.82 433.59 340.70 432.43 340.58C431.27 340.46 430.11 340.33 428.95 340.21C427.79 340.08 426.63 339.95 425.47 339.81C424.31 339.68 423.15 339.54 421.99 339.41C420.83 339.27 419.68 339.13 418.52 338.99C417.36 338.85 416.20 338.70 415.04 338.55C413.89 338.41 412.73 338.25 411.57 338.10C410.42 337.94 409.26 337.78 408.11 337.61C406.95 337.44 405.80 337.27 404.65 337.09C403.50 336.90 402.34 336.72 401.20 336.51C400.05 336.31 398.90 336.11 397.75 335.88C396.61 335.66 395.46 335.43 394.32 335.18C393.18 334.93 392.05 334.67 390.92 334.38C389.78 334.10 388.66 333.81 387.53 333.48C386.41 333.16 385.30 332.82 384.19 332.45C383.09 332.07 381.99 331.68 380.91 331.24C379.82 330.81 378.75 330.34 377.70 329.83C376.65 329.32 375.62 328.78 374.62 328.18C373.62 327.58 372.64 326.94 371.70 326.25C370.77 325.55 369.86 324.81 369.01 324.01C368.16 323.22 367.35 322.37 366.59 321.48C365.84 320.60 365.13 319.66 364.48 318.70C363.82 317.74 363.22 316.73 362.67 315.71C362.11 314.68 361.60 313.63 361.14 312.56C360.67 311.49 360.25 310.40 359.88 309.29C359.51 308.19 359.18 307.07 358.92 305.93C358.65 304.80 358.44 303.64 358.30 302.49C358.17 301.33 358.10 300.16 358.12 298.99C358.14 297.83 358.24 296.66 358.41 295.51C358.59 294.36 358.84 293.21 359.15 292.09C359.47 290.97 359.85 289.86 360.28 288.78C360.72 287.70 361.21 286.63 361.75 285.60C362.28 284.57 362.88 283.56 363.51 282.58C364.15 281.61 364.83 280.65 365.56 279.74C366.29 278.84 367.07 277.96 367.88 277.13C368.70 276.30 369.56 275.50 370.46 274.76C371.36 274.02 372.30 273.32 373.26 272.67C374.23 272.02 375.24 271.42 376.26 270.86C377.28 270.30 378.34 269.79 379.40 269.33C380.47 268.86 381.56 268.44 382.66 268.05C383.76 267.67 384.88 267.32 386.00 267.01C387.12 266.69 388.26 266.42 389.40 266.17C390.54 265.92 391.69 265.71 392.84 265.52C393.99 265.32 395.14 265.16 396.30 265.02C397.46 264.88 398.62 264.77 399.78 264.68C400.95 264.58 402.11 264.51 403.28 264.46C404.44 264.41 405.61 264.38 406.78 264.36C407.94 264.35 409.11 264.35 410.28 264.37C411.44 264.39 412.61 264.43 413.77 264.48C414.94 264.53 416.10 264.59 417.27 264.67C418.43 264.74 419.60 264.83 420.76 264.93C421.92 265.03 423.08 265.14 424.24 265.25C425.40 265.36 426.56 265.49 427.72 265.61C428.88 265.74 430.04 265.87 431.20 266.00C432.36 266.12 433.52 266.25 434.68 266.38C435.84 266.51 437.00 266.63 438.16 266.75C439.32 266.87 440.48 266.99 441.65 267.10C442.81 267.22 443.97 267.32 445.13 267.43C446.29 267.54 447.45 267.65 448.61 267.76C449.78 267.86 450.94 267.97 452.10 268.09C453.26 268.21 454.42 268.32 455.58 268.46C456.74 268.59 457.90 268.73 459.05 268.88C460.21 269.04 461.36 269.20 462.52 269.39C463.67 269.58 464.82 269.78 465.96 270.01C467.10 270.24 468.25 270.49 469.38 270.77C470.51 271.05 471.64 271.35 472.75 271.69C473.87 272.02 474.98 272.39 476.07 272.79C477.17 273.20 478.25 273.63 479.31 274.11C480.38 274.59 481.43 275.11 482.45 275.67C483.47 276.23 484.47 276.84 485.44 277.49C486.41 278.14 487.35 278.83 488.25 279.57C489.16 280.30 490.03 281.08 490.86 281.90C491.69 282.72 492.49 283.58 493.24 284.46C493.99 285.35 494.71 286.28 495.38 287.23C496.06 288.18 496.69 289.17 497.27 290.17C497.86 291.18 498.40 292.22 498.89 293.28C499.37 294.34 499.81 295.43 500.17 296.53C500.52 297.64 500.83 298.78 501.04 299.92C501.25 301.06 501.38 302.23 501.43 303.40C501.47 304.56 501.42 305.73 501.30 306.89C501.18 308.05 500.97 309.20 500.70 310.34C500.43 311.47 500.09 312.59 499.71 313.69C499.32 314.79 498.88 315.87 498.40 316.94C497.92 318.00 497.40 319.05 496.84 320.07C496.27 321.09 495.67 322.09 495.02 323.06C494.38 324.03 493.69 324.98 492.96 325.88C492.23 326.79 491.46 327.67 490.64 328.50C489.83 329.34 488.96 330.13 488.07 330.88C487.17 331.62 486.24 332.32 485.27 332.97C484.31 333.63 483.30 334.23 482.28 334.79C481.26 335.35 480.20 335.86 479.14 336.33C478.07 336.80 476.98 337.22 475.88 337.60C474.78 337.99 473.66 338.32 472.53 338.63C471.41 338.94 470.27 339.21 469.13 339.45C467.99 339.69 466.84 339.89 465.69 340.07C464.53 340.24 463.38 340.39 462.22 340.51C461.06 340.64 459.89 340.73 458.73 340.81C457.56 340.89 456.40 340.94 455.23 340.97C454.07 341.00 452.90 341.02 451.73 341.01C450.57 341.01 449.40 340.99 448.23 340.95C447.07 340.92 445.90 340.86 444.74 340.80C443.57 340.74 442.41 340.66 441.24 340.58C440.08 340.49 438.92 340.40 437.76 340.29C436.59 340.19 435.43 340.07 434.27 339.95C433.11 339.84 431.95 339.71 430.79 339.58C429.63 339.45 428.47 339.31 427.32 339.17C426.16 339.03 425.00 338.89 423.84 338.75C422.68 338.60 421.53 338.46 420.37 338.31C419.21 338.16 418.06 338.01 416.90 337.85C415.74 337.70 414.59 337.55 413.43 337.39C412.27 337.23 411.12 337.06 409.96 336.90C408.81 336.73 407.66 336.56 406.50 336.38C405.35 336.20 404.20 336.02 403.05 335.82C401.90 335.63 400.75 335.43 399.60 335.22C398.45 335.01 397.31 334.79 396.16 334.55C395.02 334.31 393.88 334.06 392.75 333.80C391.61 333.53 390.48 333.25 389.35 332.94C388.23 332.63 387.11 332.31 386.00 331.95C384.89 331.60 383.78 331.22 382.69 330.81C381.60 330.39 380.52 329.95 379.46 329.46C378.40 328.97 377.36 328.45 376.34 327.87C375.33 327.30 374.33 326.68 373.38 326.01C372.43 325.34 371.50 324.62 370.62 323.86C369.75 323.09 368.91 322.27 368.12 321.41C367.34 320.55 366.60 319.64 365.91 318.70C365.22 317.76 364.58 316.78 363.99 315.78C363.39 314.78 362.84 313.74 362.34 312.69C361.84 311.64 361.38 310.56 360.97 309.47C360.56 308.38 360.20 307.27 359.90 306.14C359.61 305.01 359.36 303.86 359.21 302.71C359.06 301.56 358.97 300.38 358.98 299.22C358.99 298.06 359.09 296.89 359.27 295.74C359.45 294.59 359.72 293.44 360.05 292.33C360.37 291.21 360.78 290.11 361.23 289.04C361.68 287.96 362.20 286.91 362.76 285.89C363.32 284.87 363.93 283.87 364.58 282.90C365.23 281.94 365.93 281.00 366.67 280.10C367.41 279.20 368.20 278.33 369.02 277.51C369.85 276.68 370.72 275.90 371.62 275.16C372.52 274.42 373.46 273.72 374.43 273.07C375.39 272.42 376.40 271.82 377.42 271.27C378.45 270.71 379.50 270.20 380.57 269.73C381.63 269.26 382.72 268.84 383.82 268.45C384.92 268.07 386.04 267.72 387.16 267.41C388.29 267.10 389.42 266.82 390.56 266.58C391.70 266.34 392.85 266.13 394.01 265.94C395.16 265.76 396.31 265.61 397.47 265.48C398.63 265.35 399.80 265.25 400.96 265.17C402.12 265.09 403.29 265.03 404.46 265.00C405.62 264.96 406.79 264.95 407.95 264.95C409.12 264.95 410.29 264.98 411.45 265.02C412.62 265.05 413.79 265.11 414.95 265.18C416.11 265.25 417.28 265.34 418.44 265.43C419.60 265.53 420.77 265.63 421.93 265.75C423.09 265.86 424.25 265.99 425.41 266.12C426.57 266.24 427.73 266.38 428.88 266.51C430.04 266.64 431.20 266.78 432.36 266.91C433.52 267.04 434.68 267.17 435.84 267.29C437.00 267.42 438.16 267.54 439.32 267.65C440.48 267.76 441.65 267.87 442.81 267.97C443.97 268.07 445.13 268.17 446.29 268.27C447.46 268.37 448.62 268.47 449.78 268.57C450.94 268.67 452.11 268.77 453.27 268.89C454.43 269.00 455.59 269.12 456.75 269.26C457.91 269.39 459.06 269.54 460.22 269.70C461.37 269.87 462.53 270.04 463.68 270.25C464.83 270.45 465.97 270.67 467.11 270.92C468.25 271.17 469.39 271.44 470.51 271.75C471.64 272.05 472.76 272.38 473.87 272.74C474.97 273.11 476.07 273.51 477.15 273.95C478.23 274.39 479.30 274.86 480.35 275.37C481.39 275.89 482.42 276.44 483.42 277.04C484.42 277.64 485.40 278.29 486.34 278.97C487.28 279.66 488.20 280.39 489.08 281.15C489.95 281.92 490.80 282.74 491.60 283.58C492.40 284.43 493.16 285.32 493.88 286.24C494.59 287.15 495.27 288.11 495.90 289.09C496.52 290.07 497.11 291.09 497.63 292.13C498.15 293.17 498.63 294.24 499.03 295.34C499.42 296.43 499.77 297.56 500.02 298.69C500.27 299.83 500.44 300.99 500.53 302.15C500.61 303.31 500.61 304.49 500.53 305.65C500.45 306.81 500.28 307.97 500.05 309.11C499.82 310.25 499.52 311.39 499.17 312.50C498.82 313.61 498.41 314.70 497.96 315.78C497.51 316.86 497.01 317.91 496.48 318.95C495.94 319.98 495.36 321.00 494.74 321.99C494.11 322.97 493.45 323.93 492.74 324.86C492.03 325.78 491.27 326.67 490.47 327.52C489.67 328.37 488.82 329.18 487.94 329.94C487.05 330.69 486.13 331.41 485.17 332.07C484.21 332.74 483.22 333.36 482.20 333.93C481.19 334.50 480.14 335.02 479.08 335.50C478.02 335.98 476.93 336.41 475.83 336.81C474.74 337.20 473.62 337.55 472.50 337.87C471.38 338.19 470.24 338.47 469.10 338.72C467.96 338.97 466.82 339.18 465.67 339.37C464.51 339.56 463.36 339.72 462.20 339.85C461.04 339.98 459.88 340.09 458.71 340.18C457.55 340.26 456.38 340.32 455.22 340.37C454.05 340.41 452.89 340.43 451.72 340.43C450.55 340.44 449.39 340.43 448.22 340.40C447.05 340.37 445.89 340.32 444.72 340.27C443.56 340.21 442.39 340.14 441.23 340.06C440.07 339.98 438.90 339.88 437.74 339.78C436.58 339.68 435.42 339.57 434.26 339.45C433.10 339.33 431.94 339.20 430.78 339.07C429.62 338.93 428.46 338.79 427.30 338.65C426.14 338.51 424.99 338.36 423.83 338.21C422.67 338.06 421.52 337.91 420.36 337.76C419.20 337.60 418.05 337.45 416.89 337.29C415.74 337.13 414.58 336.97 413.42 336.81C412.27 336.64 411.11 336.48 409.96 336.31C408.81 336.14 407.65 335.97 406.50 335.79C405.35 335.61 404.19 335.42 403.04 335.23C401.89 335.04 400.74 334.84 399.60 334.62C398.45 334.41 397.30 334.19 396.16 333.95C395.02 333.71 393.88 333.47 392.74 333.19C391.61 332.92 390.48 332.64 389.36 332.32C388.23 332.01 387.11 331.68 386.00 331.31C384.90 330.95 383.80 330.56 382.71 330.13C381.63 329.70 380.55 329.24 379.50 328.74C378.45 328.23 377.41 327.69 376.41 327.10C375.41 326.51 374.42 325.87 373.48 325.18C372.54 324.50 371.63 323.76 370.77 322.98C369.91 322.19 369.08 321.36 368.31 320.49C367.54 319.62 366.81 318.70 366.13 317.75C365.45 316.81 364.82 315.82 364.23 314.81C363.64 313.81 363.09 312.77 362.60 311.72C362.10 310.66 361.64 309.59 361.25 308.49C360.86 307.39 360.50 306.27 360.23 305.14C359.96 304.01 359.75 302.85 359.64 301.70C359.52 300.54 359.49 299.36 359.56 298.20C359.62 297.04 359.78 295.87 360.02 294.74C360.26 293.60 360.59 292.47 360.98 291.37C361.36 290.27 361.83 289.20 362.34 288.15C362.85 287.10 363.42 286.08 364.03 285.08C364.63 284.09 365.29 283.12 365.99 282.19C366.69 281.26 367.43 280.35 368.21 279.49C368.99 278.62 369.82 277.79 370.67 277.00C371.53 276.21 372.43 275.46 373.35 274.75C374.28 274.04 375.24 273.38 376.23 272.76C377.22 272.14 378.24 271.57 379.27 271.04C380.31 270.51 381.38 270.02 382.45 269.58C383.53 269.13 384.63 268.73 385.74 268.36C386.84 268.00 387.97 267.68 389.10 267.39C390.23 267.10 391.37 266.85 392.51 266.62C393.66 266.40 394.81 266.21 395.96 266.05C397.12 265.89 398.28 265.76 399.44 265.65C400.60 265.54 401.77 265.46 402.93 265.41C404.10 265.35 405.26 265.32 406.43 265.31C407.60 265.29 408.76 265.31 409.93 265.33C411.10 265.36 412.26 265.41 413.43 265.48C414.59 265.54 415.76 265.62 416.92 265.71C418.08 265.81 419.24 265.92 420.40 266.03C421.57 266.15 422.73 266.28 423.88 266.41C425.04 266.54 426.20 266.68 427.36 266.82C428.52 266.95 429.68 267.10 430.84 267.23C431.99 267.37 433.15 267.50 434.31 267.63C435.47 267.76 436.63 267.88 437.79 267.99C438.96 268.11 440.12 268.22 441.28 268.32C442.44 268.42 443.60 268.51 444.77 268.61C445.93 268.70 447.09 268.79 448.26 268.88C449.42 268.98 450.58 269.07 451.74 269.17C452.91 269.28 454.07 269.38 455.23 269.50C456.39 269.63 457.55 269.76 458.71 269.91C459.86 270.06 461.02 270.22 462.17 270.40C463.32 270.59 464.47 270.79 465.61 271.02C466.76 271.25 467.90 271.50 469.03 271.79C470.16 272.07 471.29 272.38 472.40 272.72C473.52 273.06 474.62 273.44 475.71 273.85C476.81 274.26 477.89 274.70 478.95 275.19C480.01 275.67 481.05 276.20 482.07 276.76C483.09 277.33 484.09 277.94 485.06 278.59C486.03 279.24 486.97 279.93 487.87 280.66C488.78 281.40 489.65 282.18 490.48 282.99C491.31 283.81 492.11 284.67 492.86 285.56C493.61 286.45 494.32 287.38 494.98 288.35C495.63 289.31 496.25 290.31 496.80 291.33C497.35 292.36 497.85 293.42 498.27 294.51C498.70 295.59 499.06 296.71 499.34 297.84C499.61 298.97 499.82 300.13 499.93 301.28C500.04 302.44 500.07 303.62 500.01 304.78C499.96 305.94 499.81 307.11 499.61 308.25C499.41 309.40 499.13 310.54 498.80 311.66C498.47 312.77 498.09 313.88 497.66 314.96C497.23 316.05 496.76 317.12 496.24 318.16C495.72 319.20 495.16 320.23 494.56 321.23C493.95 322.22 493.30 323.20 492.61 324.13C491.91 325.07 491.16 325.97 490.38 326.83C489.59 327.69 488.75 328.51 487.88 329.28C487.00 330.05 486.08 330.77 485.13 331.45C484.18 332.12 483.19 332.75 482.18 333.33C481.17 333.91 480.13 334.44 479.07 334.93C478.01 335.41 476.93 335.85 475.84 336.26C474.74 336.66 473.63 337.02 472.51 337.35C471.39 337.68 470.26 337.96 469.12 338.22C467.98 338.48 466.84 338.70 465.69 338.90C464.54 339.09 463.38 339.26 462.22 339.40C461.07 339.54 459.90 339.65 458.74 339.75C457.58 339.84 456.41 339.91 455.25 339.96C454.08 340.01 452.92 340.04 451.75 340.05C450.58 340.07 449.42 340.06 448.25 340.04C447.08 340.02 445.92 339.98 444.75 339.92C443.59 339.87 442.42 339.81 441.26 339.73C440.09 339.65 438.93 339.56 437.77 339.46C436.61 339.36 435.44 339.25 434.28 339.13C433.12 339.01 431.96 338.88 430.80 338.75C429.65 338.62 428.49 338.48 427.33 338.33C426.17 338.19 425.02 338.04 423.86 337.88C422.70 337.73 421.55 337.58 420.39 337.42C419.23 337.26 418.08 337.10 416.92 336.94C415.77 336.78 414.61 336.62 413.46 336.45C412.30 336.29 411.15 336.12 409.99 335.95C408.84 335.78 407.68 335.61 406.53 335.43C405.38 335.25 404.23 335.07 403.08 334.88C401.92 334.69 400.77 334.49 399.63 334.27C398.48 334.06 397.33 333.84 396.19 333.60C395.05 333.36 393.91 333.11 392.78 332.84C391.64 332.56 390.51 332.28 389.39 331.96C388.27 331.64 387.15 331.30 386.05 330.93C384.94 330.56 383.84 330.16 382.76 329.72C381.68 329.28 380.61 328.82 379.56 328.30C378.52 327.78 377.49 327.23 376.49 326.63C375.49 326.02 374.52 325.37 373.59 324.68C372.65 323.98 371.75 323.23 370.89 322.44C370.04 321.65 369.23 320.81 368.46 319.93C367.69 319.06 366.97 318.13 366.29 317.18C365.62 316.24 364.99 315.25 364.40 314.24C363.81 313.24 363.27 312.20 362.77 311.14C362.28 310.09 361.83 309.01 361.44 307.91C361.06 306.81 360.71 305.69 360.46 304.55C360.21 303.42 360.02 302.25 359.93 301.09C359.85 299.94 359.85 298.76 359.95 297.60C360.05 296.44 360.25 295.28 360.52 294.15C360.80 293.02 361.17 291.90 361.60 290.82C362.02 289.74 362.53 288.68 363.07 287.65C363.61 286.62 364.22 285.62 364.86 284.64C365.50 283.67 366.20 282.73 366.92 281.82C367.65 280.91 368.42 280.02 369.22 279.18C370.03 278.34 370.87 277.53 371.75 276.76C372.62 275.99 373.54 275.26 374.48 274.57C375.42 273.88 376.39 273.23 377.39 272.63C378.39 272.03 379.41 271.46 380.46 270.95C381.50 270.43 382.57 269.96 383.66 269.53C384.74 269.09 385.84 268.70 386.95 268.35C388.06 268.00 389.19 267.68 390.32 267.40C391.45 267.12 392.59 266.88 393.74 266.67C394.89 266.46 396.04 266.28 397.20 266.13C398.36 265.98 399.52 265.86 400.68 265.77C401.84 265.68 403.01 265.61 404.17 265.57C405.34 265.53 406.51 265.52 407.67 265.52C408.84 265.53 410.01 265.55 411.17 265.60C412.34 265.64 413.50 265.71 414.67 265.79C415.83 265.87 416.99 265.97 418.16 266.07C419.32 266.18 420.48 266.31 421.64 266.43C422.80 266.56 423.95 266.70 425.11 266.84C426.27 266.98 427.43 267.13 428.59 267.27C429.74 267.41 430.90 267.56 432.06 267.69C433.22 267.83 434.38 267.96 435.54 268.08C436.70 268.21 437.86 268.32 439.02 268.43C440.18 268.54 441.35 268.63 442.51 268.73C443.67 268.82 444.84 268.91 446.00 269.00C447.16 269.09 448.33 269.17 449.49 269.26C450.65 269.36 451.81 269.45 452.98 269.55C454.14 269.66 455.30 269.77 456.46 269.90C457.62 270.03 458.78 270.17 459.93 270.33C461.09 270.49 462.24 270.66 463.39 270.86C464.54 271.07 465.69 271.29 466.83 271.54C467.96 271.79 469.10 272.06 470.23 272.37C471.35 272.67 472.47 273.01 473.58 273.38C474.68 273.74 475.78 274.14 476.86 274.58C477.94 275.02 479.01 275.50 480.05 276.01C481.10 276.53 482.13 277.08 483.13 277.68C484.13 278.28 485.11 278.91 486.06 279.59C487.00 280.28 487.93 281.00 488.80 281.76C489.68 282.53 490.53 283.34 491.33 284.18C492.13 285.03 492.90 285.91 493.61 286.84C494.32 287.76 495.00 288.72 495.61 289.71C496.22 290.70 496.78 291.73 497.27 292.79C497.76 293.84 498.20 294.93 498.54 296.04C498.89 297.15 499.18 298.30 499.37 299.44C499.55 300.59 499.66 301.76 499.68 302.93C499.70 304.09 499.63 305.26 499.50 306.42C499.36 307.57 499.14 308.73 498.87 309.86C498.60 310.99 498.26 312.11 497.89 313.22C497.51 314.32 497.08 315.41 496.61 316.47C496.14 317.54 495.62 318.59 495.06 319.61C494.50 320.63 493.90 321.64 493.25 322.60C492.59 323.57 491.89 324.51 491.15 325.40C490.40 326.30 489.61 327.16 488.77 327.97C487.93 328.78 487.05 329.55 486.13 330.26C485.21 330.98 484.25 331.65 483.26 332.27C482.28 332.89 481.25 333.46 480.21 333.98C479.17 334.51 478.11 334.99 477.03 335.43C475.95 335.87 474.84 336.26 473.74 336.62C472.63 336.98 471.50 337.29 470.37 337.58C469.24 337.87 468.10 338.12 466.96 338.34C465.81 338.57 464.66 338.76 463.50 338.92C462.35 339.09 461.19 339.23 460.03 339.35C458.87 339.46 457.71 339.55 456.54 339.62C455.38 339.70 454.21 339.74 453.05 339.77C451.88 339.81 450.71 339.82 449.55 339.81C448.38 339.81 447.21 339.78 446.05 339.75C444.88 339.71 443.71 339.66 442.55 339.59C441.39 339.53 440.22 339.45 439.06 339.36C437.89 339.27 436.73 339.17 435.57 339.05C434.41 338.94 433.25 338.82 432.09 338.69C430.93 338.57 429.77 338.43 428.61 338.29C427.46 338.14 426.30 338.00 425.14 337.84C423.98 337.69 422.83 337.54 421.67 337.38C420.52 337.22 419.36 337.06 418.21 336.90C417.05 336.74 415.89 336.58 414.74 336.42C413.58 336.25 412.43 336.09 411.27 335.92C410.12 335.75 408.97 335.58 407.81 335.41C406.66 335.23 405.51 335.06 404.35 334.87C403.20 334.68 402.05 334.49 400.90 334.29C399.75 334.08 398.61 333.87 397.46 333.64C396.32 333.41 395.18 333.18 394.04 332.91C392.90 332.65 391.77 332.37 390.64 332.07C389.52 331.77 388.39 331.45 387.28 331.09C386.17 330.73 385.07 330.36 383.98 329.94C382.89 329.52 381.81 329.07 380.76 328.57C379.70 328.08 378.66 327.55 377.64 326.97C376.63 326.40 375.64 325.78 374.69 325.11C373.73 324.44 372.81 323.72 371.93 322.95C371.05 322.19 370.20 321.38 369.41 320.53C368.61 319.68 367.86 318.78 367.15 317.85C366.45 316.93 365.78 315.96 365.17 314.97C364.55 313.99 363.97 312.97 363.45 311.93C362.92 310.89 362.43 309.82 362.01 308.74C361.59 307.65 361.20 306.54 360.91 305.42C360.61 304.29 360.38 303.14 360.24 301.98C360.11 300.83 360.06 299.65 360.11 298.49C360.17 297.33 360.32 296.16 360.56 295.02C360.80 293.89 361.14 292.76 361.54 291.67C361.94 290.57 362.42 289.50 362.95 288.47C363.48 287.43 364.08 286.42 364.71 285.44C365.34 284.46 366.03 283.51 366.74 282.59C367.46 281.68 368.22 280.79 369.01 279.93C369.81 279.08 370.64 278.26 371.50 277.47C372.37 276.69 373.26 275.94 374.19 275.23C375.12 274.53 376.08 273.86 377.06 273.23C378.05 272.61 379.06 272.02 380.09 271.48C381.13 270.94 382.18 270.45 383.26 269.99C384.33 269.53 385.42 269.12 386.53 268.74C387.63 268.37 388.75 268.03 389.88 267.73C391.00 267.43 392.14 267.17 393.29 266.94C394.43 266.71 395.58 266.52 396.74 266.36C397.89 266.19 399.05 266.06 400.21 265.96C401.37 265.85 402.54 265.78 403.70 265.73C404.87 265.68 406.04 265.66 407.20 265.66C408.37 265.66 409.54 265.68 410.70 265.72C411.87 265.76 413.03 265.83 414.20 265.91C415.36 265.98 416.52 266.08 417.69 266.19C418.85 266.30 420.01 266.42 421.17 266.55C422.33 266.68 423.48 266.83 424.64 266.97C425.80 267.11 426.96 267.26 428.11 267.41C429.27 267.55 430.43 267.70 431.59 267.84C432.75 267.98 433.90 268.11 435.06 268.24C436.22 268.36 437.39 268.48 438.55 268.59C439.71 268.70 440.87 268.79 442.03 268.89C443.20 268.98 444.36 269.07 445.52 269.15C446.69 269.24 447.85 269.32 449.02 269.41C450.18 269.50 451.34 269.58 452.50 269.68C453.67 269.78 454.83 269.89 455.99 270.01C457.15 270.14 458.31 270.27 459.46 270.43C460.62 270.58 461.77 270.75 462.92 270.95C464.07 271.14 465.22 271.36 466.36 271.60C467.50 271.85 468.64 272.12 469.77 272.42C470.89 272.72 472.02 273.04 473.12 273.40C474.23 273.77 475.33 274.16 476.42 274.59C477.50 275.02 478.57 275.49 479.62 275.99C480.67 276.50 481.71 277.04 482.72 277.63C483.72 278.21 484.71 278.84 485.66 279.51C486.62 280.18 487.55 280.89 488.44 281.65C489.32 282.40 490.18 283.20 491.00 284.03C491.81 284.87 492.58 285.74 493.31 286.66C494.03 287.57 494.71 288.53 495.33 289.51C495.94 290.50 496.52 291.53 497.01 292.58C497.51 293.63 497.95 294.72 498.30 295.83C498.65 296.94 498.93 298.08 499.12 299.23C499.32 300.37 499.42 301.55 499.45 302.71C499.47 303.87 499.40 305.05 499.27 306.20C499.14 307.36 498.92 308.51 498.65 309.65C498.39 310.78 498.05 311.90 497.68 313.01C497.31 314.11 496.88 315.20 496.42 316.27C495.95 317.34 495.44 318.39 494.89 319.42C494.33 320.44 493.73 321.45 493.08 322.41C492.43 323.38 491.74 324.33 490.99 325.22C490.25 326.12 489.45 326.98 488.62 327.79C487.78 328.60 486.90 329.37 485.98 330.08C485.06 330.80 484.10 331.47 483.11 332.08C482.12 332.70 481.10 333.27 480.06 333.80C479.02 334.32 477.95 334.80 476.87 335.24C475.79 335.68 474.69 336.07 473.58 336.43C472.47 336.79 471.35 337.11 470.22 337.39C469.09 337.68 467.95 337.93 466.80 338.16C465.66 338.38 464.50 338.57 463.35 338.74C462.20 338.91 461.04 339.05 459.88 339.17C458.72 339.29 457.55 339.38 456.39 339.45C455.22 339.53 454.06 339.58 452.89 339.61C451.73 339.64 450.56 339.65 449.39 339.65C448.23 339.65 447.06 339.63 445.89 339.59C444.73 339.56 443.56 339.51 442.40 339.44C441.23 339.38 440.07 339.30 438.90 339.21C437.74 339.12 436.58 339.02 435.42 338.91C434.26 338.80 433.10 338.68 431.94 338.55C430.78 338.42 429.62 338.28 428.46 338.14C427.30 337.99 426.15 337.84 424.99 337.69C423.83 337.54 422.68 337.38 421.52 337.22C420.36 337.07 419.21 336.90 418.05 336.74C416.90 336.58 415.74 336.42 414.59 336.25C413.43 336.09 412.28 335.93 411.12 335.76C409.97 335.59 408.81 335.42 407.66 335.25C406.51 335.07 405.35 334.89 404.20 334.71C403.05 334.52 401.90 334.33 400.75 334.12C399.60 333.92 398.46 333.71 397.31 333.48C396.17 333.25 395.03 333.01 393.89 332.74C392.75 332.48 391.62 332.20 390.50 331.89C389.37 331.58 388.25 331.25 387.14 330.89C386.03 330.53 384.93 330.14 383.85 329.72C382.76 329.29 381.68 328.83 380.63 328.33C379.58 327.83 378.54 327.29 377.53 326.70C376.53 326.12 375.54 325.48 374.60 324.81C373.65 324.13 372.73 323.40 371.86 322.63C370.98 321.86 370.15 321.04 369.36 320.18C368.57 319.32 367.82 318.42 367.12 317.49C366.42 316.56 365.76 315.59 365.15 314.60C364.53 313.61 363.96 312.59 363.44 311.55C362.92 310.51 362.44 309.44 362.03 308.35C361.61 307.26 361.24 306.15 360.96 305.02C360.68 303.89 360.46 302.73 360.34 301.57C360.23 300.42 360.20 299.24 360.28 298.08C360.35 296.92 360.54 295.75 360.80 294.62C361.06 293.49 361.43 292.37 361.85 291.29C362.28 290.20 362.79 289.15 363.34 288.12C363.89 287.10 364.51 286.10 365.16 285.13C365.81 284.17 366.51 283.23 367.25 282.33C367.98 281.42 368.76 280.55 369.56 279.70C370.37 278.86 371.21 278.05 372.09 277.28C372.96 276.51 373.87 275.77 374.80 275.08C375.74 274.38 376.71 273.72 377.70 273.11C378.69 272.49 379.71 271.92 380.74 271.39C381.78 270.86 382.84 270.36 383.92 269.92C384.99 269.47 386.09 269.06 387.20 268.69C388.30 268.32 389.42 267.99 390.55 267.70C391.68 267.41 392.82 267.15 393.97 266.93C395.11 266.71 396.26 266.52 397.42 266.37C398.58 266.21 399.74 266.09 400.90 265.99C402.06 265.90 403.23 265.83 404.39 265.79C405.56 265.75 406.73 265.74 407.89 265.75C409.06 265.75 410.23 265.79 411.39 265.84C412.56 265.89 413.72 265.96 414.88 266.05C416.05 266.14 417.21 266.24 418.37 266.36C419.53 266.47 420.69 266.61 421.85 266.74C423.01 266.88 424.17 267.03 425.32 267.17C426.48 267.32 427.64 267.47 428.79 267.62C429.95 267.77 431.11 267.92 432.27 268.05C433.43 268.19 434.59 268.32 435.75 268.45C436.91 268.57 438.07 268.68 439.23 268.78C440.39 268.89 441.55 268.98 442.72 269.07C443.88 269.16 445.04 269.24 446.21 269.32C447.37 269.41 448.54 269.48 449.70 269.57C450.86 269.66 452.03 269.75 453.19 269.85C454.35 269.96 455.51 270.06 456.67 270.19C457.83 270.32 458.99 270.46 460.14 270.62C461.30 270.79 462.45 270.97 463.60 271.17C464.75 271.38 465.90 271.60 467.03 271.86C468.17 272.11 469.31 272.39 470.43 272.70C471.55 273.02 472.67 273.36 473.77 273.73C474.88 274.11 475.97 274.52 477.05 274.96C478.13 275.41 479.19 275.89 480.24 276.41C481.28 276.93 482.30 277.49 483.30 278.10C484.30 278.70 485.28 279.34 486.22 280.03C487.16 280.71 488.08 281.44 488.95 282.21C489.83 282.98 490.67 283.80 491.46 284.65C492.26 285.50 493.02 286.39 493.72 287.32C494.42 288.25 495.08 289.23 495.66 290.23C496.25 291.23 496.79 292.28 497.25 293.35C497.72 294.41 498.12 295.52 498.43 296.64C498.74 297.76 498.97 298.92 499.12 300.07C499.26 301.22 499.31 302.40 499.29 303.56C499.27 304.72 499.16 305.89 498.99 307.04C498.82 308.20 498.56 309.34 498.27 310.47C497.97 311.60 497.62 312.71 497.22 313.81C496.82 314.90 496.38 315.98 495.89 317.04C495.40 318.10 494.87 319.14 494.29 320.16C493.71 321.17 493.09 322.16 492.41 323.11C491.74 324.06 491.02 324.98 490.25 325.85C489.48 326.73 488.66 327.56 487.79 328.35C486.93 329.13 486.02 329.87 485.08 330.56C484.15 331.25 483.16 331.89 482.16 332.48C481.16 333.07 480.12 333.61 479.07 334.11C478.01 334.61 476.93 335.06 475.84 335.48C474.75 335.89 473.65 336.26 472.53 336.60C471.41 336.94 470.28 337.24 469.15 337.51C468.02 337.78 466.87 338.01 465.72 338.22C464.58 338.43 463.42 338.60 462.27 338.76C461.11 338.91 459.95 339.04 458.79 339.15C457.63 339.25 456.46 339.33 455.30 339.40C454.13 339.46 452.97 339.50 451.80 339.52C450.63 339.55 449.47 339.55 448.30 339.54C447.13 339.53 445.97 339.50 444.80 339.46C443.63 339.42 442.47 339.36 441.30 339.29C440.14 339.22 438.98 339.13 437.81 339.04C436.65 338.94 435.49 338.83 434.33 338.72C433.17 338.60 432.01 338.47 430.85 338.34C429.69 338.21 428.53 338.06 427.37 337.92C426.22 337.77 425.06 337.62 423.90 337.46C422.75 337.31 421.59 337.15 420.44 336.99C419.28 336.83 418.13 336.66 416.97 336.50C415.82 336.34 414.66 336.18 413.51 336.01C412.35 335.85 411.20 335.68 410.04 335.51C408.89 335.34 407.73 335.17 406.58 334.99C405.43 334.82 404.27 334.64 403.12 334.44C401.97 334.25 400.82 334.06 399.67 333.84C398.53 333.63 397.38 333.41 396.24 333.17C395.10 332.93 393.96 332.68 392.83 332.40C391.69 332.12 390.56 331.83 389.44 331.50C388.32 331.18 387.21 330.83 386.11 330.44C385.01 330.06 383.91 329.65 382.84 329.20C381.76 328.75 380.70 328.26 379.66 327.73C378.62 327.20 377.60 326.63 376.62 326.01C375.63 325.39 374.66 324.73 373.74 324.02C372.82 323.31 371.93 322.54 371.08 321.74C370.23 320.94 369.43 320.09 368.67 319.21C367.90 318.33 367.19 317.40 366.51 316.45C365.84 315.50 365.21 314.52 364.63 313.51C364.04 312.50 363.50 311.46 363.01 310.41C362.52 309.35 362.07 308.26 361.70 307.16C361.33 306.06 361.00 304.93 360.78 303.79C360.55 302.65 360.39 301.48 360.35 300.32C360.30 299.16 360.35 297.98 360.49 296.83C360.64 295.67 360.90 294.52 361.23 293.41C361.55 292.29 361.98 291.19 362.46 290.13C362.94 289.07 363.50 288.04 364.09 287.04C364.69 286.04 365.35 285.07 366.03 284.13C366.72 283.19 367.46 282.28 368.23 281.40C368.99 280.52 369.80 279.67 370.63 278.86C371.47 278.05 372.34 277.27 373.23 276.52C374.13 275.78 375.06 275.07 376.02 274.40C376.97 273.74 377.96 273.11 378.97 272.52C379.98 271.94 381.01 271.39 382.06 270.89C383.11 270.38 384.19 269.92 385.27 269.50C386.36 269.08 387.47 268.70 388.58 268.36C389.70 268.01 390.82 267.71 391.96 267.44C393.09 267.18 394.24 266.95 395.39 266.75C396.54 266.55 397.70 266.39 398.85 266.26C400.01 266.12 401.18 266.02 402.34 265.95C403.50 265.87 404.67 265.83 405.84 265.81C407.00 265.79 408.17 265.80 409.34 265.82C410.50 265.85 411.67 265.90 412.83 265.97C414.00 266.04 415.16 266.13 416.32 266.23C417.49 266.33 418.65 266.45 419.81 266.58C420.97 266.70 422.12 266.85 423.28 266.99C424.44 267.13 425.60 267.29 426.75 267.44C427.91 267.59 429.07 267.74 430.22 267.89" fill="none" stroke="#ff0000" stroke-width="1.2" stroke-linejoin="round" stroke-linecap="round"/>
<path d="M476.7 257.7L466.9 258.6L468.4 252.7Z" fill="#ff0000"/>
<text x="4.9" y="18.5" font-size="17.8" fill="#111" stroke="#111" stroke-width="0.2">(a)</text>
<text x="272.6" y="18.8" font-size="17.6" fill="#111" stroke="#111" stroke-width="0.2">(c)</text>
<text x="4.4" y="229.3" font-size="17.6" fill="#111" stroke="#111" stroke-width="0.2">(b)</text>
<text x="271.9" y="229.5" font-size="17.8" fill="#111" stroke="#111" stroke-width="0.2">(d)</text>
<text transform="translate(166.2,169.7) scale(1,1.075)" text-anchor="middle" font-size="17.6" fill="#000">Static</text>
<text transform="translate(169.6,381.0) scale(1,1.075)" text-anchor="middle" font-size="17.6" fill="#000">Static</text>
<text transform="translate(433.7,165.7) scale(1,1.075)" text-anchor="middle" font-size="17.6" fill="#f00">Self-vibration</text>
<text transform="translate(434.5,376.7) scale(1,1.075)" text-anchor="middle" font-size="17.6" fill="#f00">Self-vibration</text>
<text x="157.8" y="205.6" text-anchor="middle" font-size="16" font-style="italic" stroke="#262626" stroke-width="0.25">t</text>
<path d="M155.20000000000002 193.6h4.8" stroke="#262626" stroke-width="0.9"/>
<text x="426.5" y="205.6" text-anchor="middle" font-size="16" font-style="italic" stroke="#262626" stroke-width="0.25">t</text>
<path d="M423.9 193.6h4.8" stroke="#262626" stroke-width="0.9"/>
<text x="161.5" y="414.8" text-anchor="middle" font-size="15" font-style="italic" stroke="#262626" stroke-width="0.25">x</text>
<path d="M157.5 406.5h8.2" stroke="#262626" stroke-width="0.9"/>
<text x="430.3" y="414.8" text-anchor="middle" font-size="15" font-style="italic" stroke="#262626" stroke-width="0.25">x</text>
<path d="M426.3 405.8h8.2" stroke="#262626" stroke-width="0.9"/>
<text transform="translate(19.799999999999997,94) rotate(-90)" text-anchor="middle" font-size="15.5" font-style="italic" stroke="#262626" stroke-width="0.25">x</text>
<path d="M11.1 89.7v8.6" stroke="#262626" stroke-width="1"/>
<text transform="translate(288.5,94) rotate(-90)" text-anchor="middle" font-size="15.5" font-style="italic" stroke="#262626" stroke-width="0.25">x</text>
<path d="M279.8 89.7v8.6" stroke="#262626" stroke-width="1"/>
<text transform="translate(20.200000000000003,302.5) rotate(-90)" text-anchor="middle" font-size="15.5" font-style="italic" stroke="#262626" stroke-width="0.25">x</text>
<path d="M7.9 298.2v8.6" stroke="#262626" stroke-width="1"/>
<circle cx="11.0" cy="302.3" r="0.8" fill="#262626"/>
<text transform="translate(289.1,302.5) rotate(-90)" text-anchor="middle" font-size="15.5" font-style="italic" stroke="#262626" stroke-width="0.25">x</text>
<path d="M276.8 298.2v8.6" stroke="#262626" stroke-width="1"/>
<circle cx="279.90000000000003" cy="302.3" r="0.8" fill="#262626"/>
</svg>
</body></html>
